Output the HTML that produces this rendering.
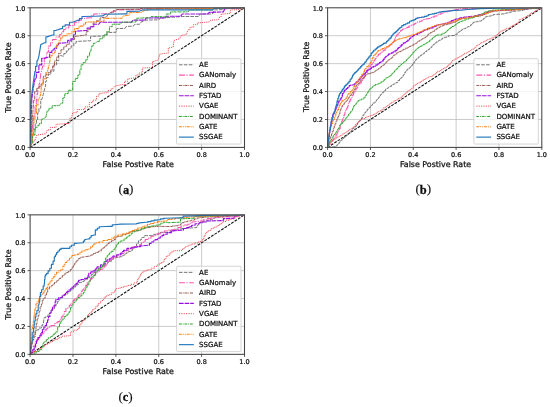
<!DOCTYPE html>
<html lang="en"><head><meta charset="utf-8"><title>ROC curves</title>
<style>
html,body{margin:0;padding:0;background:#fff}
svg{display:block}
.t{font-family:"DejaVu Sans","Liberation Sans",sans-serif;fill:#111;stroke:#111;stroke-width:0.24px}
.tk{font-size:6.5px}
.lb{font-size:7.9px;stroke-width:0.25px}
.lg{font-size:7px}
.cap{font-family:"Liberation Serif","DejaVu Serif",serif;font-size:12.4px;fill:#111;stroke:#111;stroke-width:0.12px}
.cv{fill:none;stroke-linejoin:round}
</style></head>
<body>
<svg width="550" height="407" viewBox="0 0 550 407">
<rect width="550" height="407" fill="#fff"/>
<filter id="soft" x="0" y="0" width="550" height="407" filterUnits="userSpaceOnUse"><feGaussianBlur stdDeviation="0.3"/></filter>
<g filter="url(#soft)">
<g id="plot-a">
<clipPath id="clip0"><rect x="30.1" y="7.8" width="214.4" height="139.6"/></clipPath>
<path d="M72.98 7.8V147.4M30.1 119.48H244.5M115.86 7.8V147.4M30.1 91.56H244.5M158.74 7.8V147.4M30.1 63.64H244.5M201.62 7.8V147.4M30.1 35.72H244.5" stroke="#b4b4b4" stroke-width="0.7" fill="none"/>
<g clip-path="url(#clip0)">
<path d="M30.1 147.4L244.5 7.8" stroke="#0a0a0a" stroke-width="1.05" stroke-dasharray="2.8 1.2" fill="none"/>
<polyline class="cv" points="30.3,146.9 31.8,140.1 32.44,140.1 32.44,135.86 33.09,135.86 33.74,135.86 33.74,129.9 34.4,129.9 35.19,129.9 35.19,123.63 35.99,123.63 36.44,123.63 36.44,119.7 36.9,119.7 37.64,119.7 37.64,112.87 38.38,112.87 38.94,112.87 38.94,108.2 39.5,108.2 40.75,108.2 40.75,99.3 42,99.3 43.3,94.1 45.2,86.5 45.57,86.5 45.57,81.34 45.94,81.34 46.57,81.34 46.57,77.5 47.2,77.5 48.2,77.5 48.2,74.55 49.19,74.55 50.75,74.55 50.75,71.2 52.3,71.2 53.9,71.2 53.9,64.8 55.5,64.8 56.59,64.8 56.59,60.67 57.69,60.67 58.79,60.67 58.79,55.2 59.9,55.2 62.5,56.1 63.81,56.1 63.81,53.61 65.12,53.61 66.36,53.61 66.36,51 67.6,51 68.54,51 68.54,48.75 69.48,48.75 71.09,48.75 71.09,45.9 72.7,45.9 73.84,45.9 73.84,43.28 74.97,43.28 76.09,43.28 76.09,41.4 77.2,41.4 89.3,40.8 90.6,40.8 90.6,36.3 91.9,36.3 102.7,36 104.6,35 107.15,35 107.15,32.5 109.7,32.5 116.1,32.2 116.7,28.6 125,28.4 126.3,26.5 133.3,26.1 134.6,24.4 139.7,24.2 141,22.2 143.5,21 146.1,20.1 158.9,19.8 160.1,17.8 165,17.8 182.2,16.5 198.7,16.5 200,14 212.6,14 214.3,9.9 223.3,9.6 225,8.2 244.5,7.8" stroke="#666" stroke-width="0.9" stroke-dasharray="3.6 1.1"/>
<polyline class="cv" points="30.3,146.9 30.63,146.9 30.63,141.82 30.95,141.82 31.4,141.82 31.4,137.36 31.84,137.36 32.17,137.36 32.17,127.4 32.5,127.4 34.4,112 35.08,112 35.08,105.43 35.75,105.43 36.33,105.43 36.33,99.3 36.9,99.3 36.9,94.1 37.7,94.1 37.7,87.88 38.51,87.88 39,87.88 39,83.9 39.5,83.9 40.8,73.7 42.7,66 44.3,66 44.3,58.4 45.9,58.4 47.2,52 48.45,52 48.45,45.9 49.7,45.9 50.63,45.9 50.63,42.64 51.55,42.64 52.53,42.64 52.53,39.5 53.5,39.5 56.1,39.5 56.1,36.9 58.7,36.9 59.72,36.9 59.72,34.57 60.74,34.57 61.62,34.57 61.62,31.8 62.5,31.8 63.68,31.8 63.68,29.46 64.85,29.46 65.58,29.46 65.58,28 66.3,28 68.85,28 68.85,25.4 71.4,25.4 74.6,25.4 74.6,22.2 77.8,22.2 78.73,22.2 78.73,20.29 79.67,20.29 81.28,20.29 81.28,18.4 82.9,18.4 90.6,17.8 91.8,17.8 91.8,15.57 92.99,15.57 93.7,15.57 93.7,13.9 94.4,13.9 109,13.7 111.6,12 115.4,11.4 116.7,9.9 139.7,9.6 141,8.2 244.5,7.8" stroke="#ff55b0" stroke-width="1.05" stroke-dasharray="6 1.1 1.2 1.1"/>
<polyline class="cv" points="30.3,146.9 31.2,135 32.5,117.2 33.7,100.5 34.7,100.5 34.7,91.6 35.7,91.6 36.77,91.6 36.77,88.54 37.83,88.54 39.04,88.54 39.04,86.47 40.25,86.47 41.12,86.47 41.12,83.9 42,83.9 43.3,83.9 43.3,76.3 44.6,76.3 45.85,76.3 45.85,74.34 47.11,74.34 48.4,74.34 48.4,72.4 49.7,72.4 50.72,72.4 50.72,70.04 51.73,70.04 52.62,70.04 52.62,66 53.5,66 54.54,66 54.54,60.92 55.58,60.92 56.49,60.92 56.49,57.1 57.4,57.1 58.45,57.1 58.45,53.45 59.5,53.45 61,53.45 61,49.7 62.5,49.7 63.76,49.7 63.76,46.72 65.03,46.72 66.31,46.72 66.31,44.6 67.6,44.6 69.19,44.6 69.19,41.68 70.79,41.68 71.74,41.68 71.74,39.5 72.7,39.5 74.6,39.5 74.6,36.3 76.5,36.3 85.5,35 86.25,35 86.25,31.66 86.99,31.66 88.15,31.66 88.15,29.3 89.3,29.3 90.48,29.3 90.48,26.77 91.65,26.77 93.03,26.77 93.03,22.9 94.4,22.9 96.6,22.9 96.6,20.6 98.8,20.6 100.1,20.6 100.1,17.8 101.4,17.8 106.5,17.1 107.8,14.6 110.3,12.7 113.2,12.7 113.2,10.7 116.1,10.7 116.7,9.5 139.7,9.2 142.3,8.2 244.5,7.8" stroke="#8c4a3e" stroke-width="0.9" stroke-dasharray="3 0.5 0.9 0.5"/>
<polyline class="cv" points="30.3,146.9 31.8,99.3 33.1,89 35,78.8 36.3,78.8 36.3,72.4 37.6,72.4 38.85,72.4 38.85,64.8 40.1,64.8 41.7,64.8 41.7,58.4 43.3,58.4 48.4,57.1 49.7,57.1 49.7,52.3 51,52.3 51.89,52.3 51.89,49.99 52.78,49.99 54.14,49.99 54.14,48.4 55.5,48.4 56.59,48.4 56.59,45.72 57.69,45.72 58.49,45.72 58.49,43.3 59.3,43.3 66.3,42.7 67.7,42.7 67.7,40.3 69.1,40.3 70.9,40.3 70.9,38.8 72.7,38.8 73.54,38.8 73.54,34.77 74.37,34.77 75.44,34.77 75.44,31.2 76.5,31.2 85.5,30.5 87.17,30.5 87.17,28.13 88.84,28.13 90.37,28.13 90.37,26.7 91.9,26.7 93.8,26.7 93.8,24.2 95.7,24.2 98.8,24.2 100.1,22.2 131.4,22.2 133.3,20.1 144.8,20.1 146.1,18 164.9,17.8 167.4,16.2 180.6,16.2 182.2,14 207.7,14 209.3,12.4 223.3,11.9 225,8.6 244.5,7.8" stroke="#9810e6" stroke-width="1.15" stroke-dasharray="4.7 0.7"/>
<polyline class="cv" points="30.3,146.9 31.2,144.6 32.23,144.6 32.23,142.06 33.27,142.06 34.13,142.06 34.13,140.1 35,140.1 36.9,135 45.9,133.8 47.2,129.9 50.35,129.9 50.35,127.4 53.5,127.4 56.1,127.4 56.1,124.2 58.7,124.2 68.2,123.5 69.8,123.5 69.8,118.4 71.4,118.4 72.7,112.7 77.15,112.7 77.15,109.5 81.6,109.5 84.8,109.5 84.8,106.9 88,106.9 89.3,106.9 89.3,102.5 90.6,102.5 92.75,102.5 92.75,100.1 94.9,100.1 96.48,100.1 96.48,96.19 98.07,96.19 98.98,96.19 98.98,93.5 99.9,93.5 106.4,92.7 107.95,92.7 107.95,90.47 109.5,90.47 111.25,90.47 111.25,88.6 113,88.6 114.7,86.1 122.9,84.5 124.53,84.5 124.53,81.22 126.16,81.22 127.83,81.22 127.83,78.7 129.5,78.7 134.4,77.9 135.83,77.9 135.83,75.05 137.27,75.05 139.13,75.05 139.13,73 141,73 142.25,73 142.25,68 143.5,68 150.9,67.7 152.5,67.7 152.5,61.4 154.1,61.4 158.3,59.8 159.9,54 166.6,53.2 168.25,53.2 168.25,47.8 169.9,47.8 173.2,46.9 174,40.4 179.7,38.7 181.4,35.4 186.3,34.6 188,29.7 190.05,29.7 190.05,27.2 192.1,27.2 193.7,27.2 193.7,24.45 195.3,24.45 197.4,24.45 197.4,22.8 199.5,22.8 209.3,21.9 211,20.1 218.4,19.8 220,16.5 221.25,16.5 221.25,14 222.5,14 229.1,13.6 230.3,13.6 230.3,9.9 231.5,9.9 240.6,9.6 244.5,7.8" stroke="#f24a4e" stroke-width="1.0" stroke-dasharray="1.15 1.0"/>
<polyline class="cv" points="30.3,146.9 31.2,142.7 32.45,142.7 32.45,135 33.7,135 35,135 35,127.4 36.3,127.4 37.2,127.4 37.2,125.63 38.09,125.63 39.1,125.63 39.1,123.5 40.1,123.5 41.4,123.5 41.4,119.1 42.7,119.1 45.9,117.2 47.2,110.8 48.98,110.8 48.98,108.3 50.77,108.3 52.13,108.3 52.13,105.7 53.5,105.7 59.3,105.7 61.2,103.1 62.8,103.1 62.8,98 64.4,98 65,93.5 68.2,93.5 68.2,90.3 71.4,90.3 72.7,90.3 72.7,81.4 74,81.4 75.35,81.4 75.35,78.42 76.7,78.42 77.9,78.42 77.9,75 79.1,75 79.83,75 79.83,69.78 80.55,69.78 81.08,69.78 81.08,64.8 81.6,64.8 83.22,64.8 83.22,62.46 84.84,62.46 85.77,62.46 85.77,59.7 86.7,59.7 87.65,59.7 87.65,55.98 88.6,55.98 89.6,55.98 89.6,52 90.6,52 91.9,45.9 93.45,45.9 93.45,43.3 95,43.3 97.6,41.4 99.5,41.4 99.5,38.8 101.4,38.8 102.48,38.8 102.48,37.1 103.56,37.1 104.38,37.1 104.38,35 105.2,35 106.5,35 106.5,31.8 107.8,31.8 109.4,31.8 109.4,26.7 111,26.7 112.25,26.7 112.25,24.2 113.5,24.2 120.5,24.2 121.8,22.2 135.9,22 136.5,18.2 149.9,17.8 151.2,16.5 164.1,16.8 166.15,16.8 166.15,14 168.2,14 170.7,14 170.7,11.9 173.2,11.9 188,11.9 189.6,9.9 212.6,9.9 214.3,8.3 244.5,7.8" stroke="#25a325" stroke-width="1.0" stroke-dasharray="2.8 0.5 0.9 0.5"/>
<polyline class="cv" points="30.3,146.9 30.77,146.9 30.77,142.09 31.24,142.09 31.75,142.09 31.75,135.81 32.25,135.81 32.68,135.81 32.68,129.9 33.1,129.9 33.44,129.9 33.44,122.56 33.78,122.56 34.05,122.56 34.05,118.17 34.31,118.17 35.01,118.17 35.01,113.3 35.7,113.3 36.46,113.3 36.46,104.95 37.23,104.95 38.06,104.95 38.06,99.3 38.9,99.3 40.8,94.1 41.4,85.2 43,85.2 43,78.8 44.6,78.8 45.9,78.8 45.9,72.4 47.2,72.4 49.1,64.8 51,55.8 52.12,55.8 52.12,53.79 53.24,53.79 54.37,53.79 54.37,52 55.5,52 55.5,47.1 56.73,47.1 56.73,44.1 57.96,44.1 58.93,44.1 58.93,40.8 59.9,40.8 60.69,40.8 60.69,38.02 61.48,38.02 62.64,38.02 62.64,35.7 63.8,35.7 66.95,35.7 66.95,33.7 70.1,33.7 71.76,33.7 71.76,31.82 73.42,31.82 74.36,31.82 74.36,28.6 75.3,28.6 79.1,28.6 79.1,26.1 82.9,26.1 83.6,26.1 83.6,23.93 84.3,23.93 85.5,23.93 85.5,22.2 86.7,22.2 98,21.6 102.7,21.3 103.95,21.3 103.95,18.4 105.2,18.4 121.8,18.2 123.7,15.9 128.8,15.5 129.5,12.7 141,12.4 143.5,10.7 147.4,10.4 148.6,9.1 165,8.8 200,8.6 244.5,7.8" stroke="#ff7f0e" stroke-width="1.05" stroke-dasharray="2.9 0.6 0.95 0.6 0.95 0.6"/>
<polyline class="cv" points="30.3,146.9 30.8,104 31.8,94.1 33.1,83.9 35,71.2 35.58,71.2 35.58,66.3 36.16,66.3 36.88,66.3 36.88,60.9 37.6,60.9 38.9,56.1 40.8,44.6 44.6,42.7 45.9,42.7 45.9,36.9 47.2,36.9 52.3,35 53.9,35 53.9,30.5 55.5,30.5 61.2,28.6 62.55,28.6 62.55,26.2 63.91,26.2 65.1,26.2 65.1,24.8 66.3,24.8 69.5,24.8 69.5,22.2 72.7,22.2 77.8,20.3 79.42,20.3 79.42,18.59 81.03,18.59 81.97,18.59 81.97,16.5 82.9,16.5 95,16.2 102.7,15.9 105.2,14.2 125.7,13.9 126.95,13.9 126.95,11.4 128.2,11.4 139.7,11.1 142.3,9.9 212.6,9.9 214.3,8.3 244.5,7.8" stroke="#2277ba" stroke-width="1.15"/>
</g>
<rect x="30.1" y="7.8" width="214.4" height="139.6" fill="none" stroke="#444" stroke-width="1.05"/>
<path d="M30.1 147.4v2.6M30.1 147.4h-2.6M72.98 147.4v2.6M30.1 119.48h-2.6M115.86 147.4v2.6M30.1 91.56h-2.6M158.74 147.4v2.6M30.1 63.64h-2.6M201.62 147.4v2.6M30.1 35.72h-2.6M244.5 147.4v2.6M30.1 7.8h-2.6" stroke="#333" stroke-width="0.8" fill="none"/>
<text class="t tk" x="30.1" y="156.65" text-anchor="middle">0.0</text>
<text class="t tk" x="25.5" y="150.1" text-anchor="end">0.0</text>
<text class="t tk" x="72.98" y="156.65" text-anchor="middle">0.2</text>
<text class="t tk" x="25.5" y="122.18" text-anchor="end">0.2</text>
<text class="t tk" x="115.86" y="156.65" text-anchor="middle">0.4</text>
<text class="t tk" x="25.5" y="94.26" text-anchor="end">0.4</text>
<text class="t tk" x="158.74" y="156.65" text-anchor="middle">0.6</text>
<text class="t tk" x="25.5" y="66.34" text-anchor="end">0.6</text>
<text class="t tk" x="201.62" y="156.65" text-anchor="middle">0.8</text>
<text class="t tk" x="25.5" y="38.42" text-anchor="end">0.8</text>
<text class="t tk" x="244.5" y="156.65" text-anchor="middle">1.0</text>
<text class="t tk" x="25.5" y="10.5" text-anchor="end">1.0</text>
<text class="t lb" x="138.2" y="166.8" text-anchor="middle">False Postive Rate</text>
<text class="t lb" transform="translate(10.5 77.6) rotate(-90)" text-anchor="middle">True Positive Rate</text>
<rect x="176.6" y="58.7" width="64.4" height="85.35" rx="0.9" fill="#fff" fill-opacity="0.8" stroke="#d0d0d0" stroke-width="0.9"/>
<path d="M179 64.8h14.8" stroke="#666" stroke-width="0.9" stroke-dasharray="3.6 1.3" fill="none"/>
<text class="t lg" x="199.1" y="67.1">AE</text>
<path d="M179 75.13h14.8" stroke="#ff55b0" stroke-width="1.05" stroke-dasharray="6 1.5 1.2 1.5" fill="none"/>
<text class="t lg" x="199.1" y="77.43">GANomaly</text>
<path d="M179 85.46h14.8" stroke="#8c4a3e" stroke-width="0.9" stroke-dasharray="3 0.8 0.9 0.8" fill="none"/>
<text class="t lg" x="199.1" y="87.76">AIRD</text>
<path d="M179 95.79h14.8" stroke="#9810e6" stroke-width="1.15" stroke-dasharray="4.7 0.9" fill="none"/>
<text class="t lg" x="199.1" y="98.09">FSTAD</text>
<path d="M179 106.12h14.8" stroke="#f24a4e" stroke-width="1.0" stroke-dasharray="1.15 1.2" fill="none"/>
<text class="t lg" x="199.1" y="108.42">VGAE</text>
<path d="M179 116.45h14.8" stroke="#25a325" stroke-width="1.0" stroke-dasharray="2.8 0.9 0.9 0.9" fill="none"/>
<text class="t lg" x="199.1" y="118.75">DOMINANT</text>
<path d="M179 126.78h14.8" stroke="#ff7f0e" stroke-width="1.05" stroke-dasharray="2.9 1 0.95 1 0.95 1" fill="none"/>
<text class="t lg" x="199.1" y="129.08">GATE</text>
<path d="M179 137.11h14.8" stroke="#2277ba" stroke-width="1.15" fill="none"/>
<text class="t lg" x="199.1" y="139.41">SSGAE</text>
<text class="cap" x="126" y="193.35" text-anchor="middle"><tspan font-size="13.2">(</tspan><tspan font-weight="bold" stroke="#111" stroke-width="0.3" dy="0.85">a</tspan><tspan font-size="13.2" dy="-0.85">)</tspan></text>
</g>
<g id="plot-b">
<clipPath id="clip1"><rect x="327.6" y="7.8" width="214.2" height="139.6"/></clipPath>
<path d="M370.44 7.8V147.4M327.6 119.48H541.8M413.28 7.8V147.4M327.6 91.56H541.8M456.12 7.8V147.4M327.6 63.64H541.8M498.96 7.8V147.4M327.6 35.72H541.8" stroke="#b4b4b4" stroke-width="0.7" fill="none"/>
<g clip-path="url(#clip1)">
<path d="M327.6 147.4L541.8 7.8" stroke="#0a0a0a" stroke-width="1.05" stroke-dasharray="2.8 1.2" fill="none"/>
<polyline class="cv" points="327.6,146.9 333.9,146.9 335.2,146.9 335.2,145.9 336.5,145.9 336.92,145.9 336.92,144.95 337.33,144.95 337.87,144.95 337.87,144.06 338.42,144.06 338.85,144.06 338.85,142.73 339.27,142.73 339.79,142.73 339.79,141.4 340.3,141.4 340.86,141.4 340.86,140.32 341.41,140.32 341.86,140.32 341.86,139.59 342.32,139.59 342.68,139.59 342.68,138.5 343.04,138.5 343.62,138.5 343.62,137.6 344.2,137.6 344.87,137.6 344.87,136.31 345.53,136.31 345.99,136.31 345.99,135.68 346.45,135.68 347.1,135.68 347.1,134.93 347.76,134.93 348.08,134.93 348.08,134.05 348.41,134.05 348.78,134.05 348.78,133.14 349.16,133.14 349.83,133.14 349.83,131.8 350.5,131.8 351.11,131.8 351.11,130.58 351.73,130.58 352.09,130.58 352.09,129.32 352.45,129.32 352.73,129.32 352.73,128.53 353.01,128.53 353.72,128.53 353.72,127.9 354.43,127.9 354.74,127.9 354.74,127.13 355.06,127.13 355.37,127.13 355.37,126.47 355.69,126.47 356.29,126.47 356.29,124.8 356.9,124.8 357.51,124.8 357.51,122.97 358.12,122.97 358.41,122.97 358.41,122.2 358.69,122.2 359.05,122.2 359.05,121.25 359.4,121.25 359.77,121.25 359.77,120.45 360.14,120.45 360.55,120.45 360.55,119.53 360.96,119.53 361.48,119.53 361.48,117.8 362,117.8 362.48,117.8 362.48,115.8 362.95,115.8 363.27,115.8 363.27,114.83 363.58,114.83 364.05,114.83 364.05,113.96 364.52,113.96 364.85,113.96 364.85,112.43 365.18,112.43 365.89,112.43 365.89,111.49 366.6,111.49 367.2,111.49 367.2,109.3 367.8,109.3 368.31,109.3 368.31,108.1 368.82,108.1 369.46,108.1 369.46,107.47 370.09,107.47 370.41,107.47 370.41,106.28 370.72,106.28 371.12,106.28 371.12,105.66 371.52,105.66 371.88,105.66 371.88,104.86 372.24,104.86 372.52,104.86 372.52,103.81 372.81,103.81 373.56,103.81 373.56,102.8 374.3,102.8 375.18,102.8 375.18,101.11 376.05,101.11 376.38,101.11 376.38,100.14 376.7,100.14 377.02,100.14 377.02,99.36 377.35,99.36 377.91,99.36 377.91,98.53 378.47,98.53 378.75,98.53 378.75,97.24 379.04,97.24 379.53,97.24 379.53,96.33 380.02,96.33 380.29,96.33 380.29,94.98 380.57,94.98 380.96,94.98 380.96,94.27 381.34,94.27 381.97,94.27 381.97,92.9 382.6,92.9 383.26,92.9 383.26,91.9 383.92,91.9 384.3,91.9 384.3,90.62 384.68,90.62 385.57,90.62 385.57,89.2 386.47,89.2 386.89,89.2 386.89,88.51 387.3,88.51 387.74,88.51 387.74,87.85 388.18,87.85 388.63,87.85 388.63,87.27 389.08,87.27 389.94,87.27 389.94,86.3 390.8,86.3 391.49,86.3 391.49,85.19 392.18,85.19 392.85,85.19 392.85,84.5 393.52,84.5 393.93,84.5 393.93,83.83 394.34,83.83 395.07,83.83 395.07,83.2 395.8,83.2 396.3,83.2 396.3,82.4 396.8,82.4 397.9,82.4 397.9,80.6 399,80.6 399.55,80.6 399.55,78.78 400.1,78.78 400.78,78.78 400.78,77.99 401.45,77.99 401.84,77.99 401.84,77 402.23,77 402.56,77 402.56,76.12 402.89,76.12 403.31,76.12 403.31,74.86 403.73,74.86 404.21,74.86 404.21,73.13 404.68,73.13 405.09,73.13 405.09,71.94 405.5,71.94 406.05,71.94 406.05,70.5 406.6,70.5 407.16,70.5 407.16,69.26 407.72,69.26 408.21,69.26 408.21,68.62 408.69,68.62 409.21,68.62 409.21,67.86 409.73,67.86 410.15,67.86 410.15,66.78 410.57,66.78 411.1,66.78 411.1,66.02 411.64,66.02 411.93,66.02 411.93,65.01 412.23,65.01 412.71,65.01 412.71,63.8 413.2,63.8 413.81,63.8 413.81,62.3 414.43,62.3 414.71,62.3 414.71,61.37 415,61.37 415.44,61.37 415.44,60.06 415.88,60.06 416.26,60.06 416.26,59.08 416.64,59.08 417.07,59.08 417.07,58.44 417.5,58.44 417.9,58.44 417.9,57.8 418.3,57.8 419,57.8 419,56.4 419.7,56.4 420.46,56.4 420.46,55.31 421.23,55.31 421.86,55.31 421.86,54.26 422.48,54.26 423.14,54.26 423.14,53.63 423.8,53.63 424.31,53.63 424.31,52.52 424.82,52.52 425.56,52.52 425.56,51.5 426.3,51.5 426.91,51.5 426.91,50 427.51,50 428.37,50 428.37,49.23 429.23,49.23 429.82,49.23 429.82,48.4 430.4,48.4 430.87,48.4 430.87,47.46 431.33,47.46 431.66,47.46 431.66,46.42 431.98,46.42 432.29,46.42 432.29,45.69 432.6,45.69 432.88,45.69 432.88,44.97 433.17,44.97 433.71,44.97 433.71,44.31 434.25,44.31 434.67,44.31 434.67,43.51 435.09,43.51 435.95,43.51 435.95,42 436.8,42 437.59,42 437.59,41.13 438.38,41.13 438.91,41.13 438.91,40.25 439.44,40.25 440.44,40.25 440.44,39.27 441.44,39.27 442.32,39.27 442.32,38.2 443.2,38.2 444.44,38.2 444.44,37.4 445.69,37.4 446.43,37.4 446.43,36.73 447.18,36.73 448.39,36.73 448.39,35.7 449.6,35.7 454.7,35.4 455.72,35.4 455.72,34.35 456.74,34.35 457.21,34.35 457.21,33.23 457.67,33.23 458.25,33.23 458.25,32.16 458.83,32.16 459.31,32.16 459.31,31.55 459.79,31.55 460.45,31.55 460.45,30.5 461.1,30.5 461.89,30.5 461.89,29.43 462.68,29.43 463.57,29.43 463.57,28.71 464.46,28.71 465.33,28.71 465.33,28 466.2,28 466.9,28 466.9,27.15 467.6,27.15 468.13,27.15 468.13,26.48 468.66,26.48 469.37,26.48 469.37,25.86 470.08,25.86 470.69,25.86 470.69,24.8 471.3,24.8 471.73,24.8 471.73,23.74 472.15,23.74 472.64,23.74 472.64,22.99 473.13,22.99 473.52,22.99 473.52,22.2 473.9,22.2 475.23,22.2 475.23,21.79 476.57,21.79 477.25,21.79 477.25,21.45 477.93,21.45 479.12,21.45 479.12,21.04 480.31,21.04 481.5,21.04 481.5,20.3 482.7,20.3 483.11,20.3 483.11,19.12 483.53,19.12 483.78,19.12 483.78,18.35 484.04,18.35 484.62,18.35 484.62,17.1 485.2,17.1 486.22,17.1 486.22,16.48 487.24,16.48 488.88,16.48 488.88,16.03 490.52,16.03 491.31,16.03 491.31,15.46 492.1,15.46 493.15,15.46 493.15,14.6 494.2,14.6 503.1,13.9 504.35,13.9 504.35,13.34 505.59,13.34 506.21,13.34 506.21,12.91 506.82,12.91 508.42,12.91 508.42,12.29 510.02,12.29 510.64,12.29 510.64,11.89 511.26,11.89 512.28,11.89 512.28,11.4 513.3,11.4 519.7,10.7 520.8,10.7 520.8,10.3 521.9,10.3 523.04,10.3 523.04,9.84 524.19,9.84 524.88,9.84 524.88,9.49 525.57,9.49 527.09,9.49 527.09,9.1 528.6,9.1 530.17,9.1 530.17,8.75 531.73,8.75 532.46,8.75 532.46,8.6 533.2,8.6 534.31,8.6 534.31,8.46 535.42,8.46 536.15,8.46 536.15,8.29 536.87,8.29 537.86,8.29 537.86,8.01 538.86,8.01 540.08,8.01 540.08,7.8 541.3,7.8" stroke="#666" stroke-width="0.9" stroke-dasharray="3.6 1.1"/>
<polyline class="cv" points="327.6,146.9 328.2,146.9 328.2,145.3 328.8,145.3 329.27,145.3 329.27,143.98 329.74,143.98 330.37,143.98 330.37,143.08 331,143.08 331.35,143.08 331.35,142.13 331.71,142.13 332.2,142.13 332.2,140.8 332.7,140.8 333.18,140.8 333.18,139.02 333.66,139.02 334.05,139.02 334.05,137.42 334.44,137.42 334.96,137.42 334.96,136.46 335.49,136.46 335.99,136.46 335.99,135 336.5,135 336.95,135 336.95,132.97 337.41,132.97 337.76,132.97 337.76,131.94 338.12,131.94 338.38,131.94 338.38,130.84 338.63,130.84 339.17,130.84 339.17,128.7 339.7,128.7 340.16,128.7 340.16,125.17 340.63,125.17 341.04,125.17 341.04,123.6 341.45,123.6 341.82,123.6 341.82,121 342.2,121 342.83,121 342.83,118.57 343.45,118.57 343.72,118.57 343.72,115.77 343.98,115.77 344.26,115.77 344.26,114.23 344.54,114.23 344.97,114.23 344.97,112 345.4,112 345.81,112 345.81,109.63 346.22,109.63 346.76,109.63 346.76,107.98 347.29,107.98 347.65,107.98 347.65,105.7 348,105.7 348.38,105.7 348.38,103.76 348.75,103.76 349.19,103.76 349.19,101.64 349.62,101.64 350,101.64 350,99.86 350.38,99.86 350.84,99.86 350.84,97.8 351.3,97.8 351.96,97.8 351.96,95.73 352.62,95.73 352.9,95.73 352.9,94.77 353.18,94.77 353.5,94.77 353.5,92.96 353.82,92.96 354.15,92.96 354.15,91.91 354.49,91.91 354.92,91.91 354.92,90.28 355.35,90.28 355.83,90.28 355.83,88.8 356.3,88.8 356.84,88.8 356.84,87.71 357.37,87.71 357.68,87.71 357.68,86.22 357.98,86.22 358.27,86.22 358.27,85.2 358.57,85.2 358.96,85.2 358.96,84.05 359.34,84.05 359.87,84.05 359.87,83 360.4,83 361.28,83 361.28,80.47 362.16,80.47 362.51,80.47 362.51,79.48 362.85,79.48 363.39,79.48 363.39,78.12 363.93,78.12 364.26,78.12 364.26,76.8 364.59,76.8 364.95,76.8 364.95,75.63 365.31,75.63 365.61,75.63 365.61,73.68 365.91,73.68 366.22,73.68 366.22,72.55 366.53,72.55 367.16,72.55 367.16,69.9 367.8,69.9 368.25,69.9 368.25,68.48 368.71,68.48 369.01,68.48 369.01,67.28 369.31,67.28 369.92,67.28 369.92,66.22 370.53,66.22 370.99,66.22 370.99,64.44 371.45,64.44 372.08,64.44 372.08,62.6 372.7,62.6 373.26,62.6 373.26,61.18 373.82,61.18 374.16,61.18 374.16,60.21 374.5,60.21 374.99,60.21 374.99,58.78 375.49,58.78 375.89,58.78 375.89,57.94 376.3,57.94 376.61,57.94 376.61,56.83 376.92,56.83 377.22,56.83 377.22,55.76 377.52,55.76 378.41,55.76 378.41,54.3 379.3,54.3 379.93,54.3 379.93,53.34 380.56,53.34 381.06,53.34 381.06,52.19 381.55,52.19 382.04,52.19 382.04,51.62 382.52,51.62 382.93,51.62 382.93,50.78 383.34,50.78 383.92,50.78 383.92,50.11 384.5,50.11 385.21,50.11 385.21,48.78 385.92,48.78 386.71,48.78 386.71,47.8 387.5,47.8 388.01,47.8 388.01,46.47 388.52,46.47 388.85,46.47 388.85,45.78 389.18,45.78 389.57,45.78 389.57,45.1 389.96,45.1 390.53,45.1 390.53,44.48 391.09,44.48 391.5,44.48 391.5,43.68 391.9,43.68 392.28,43.68 392.28,42.43 392.65,42.43 393.38,42.43 393.38,41.2 394.1,41.2 394.61,41.2 394.61,39.31 395.13,39.31 395.46,39.31 395.46,37.37 395.8,37.37 396.12,37.37 396.12,35.89 396.44,35.89 396.91,35.89 396.91,34.75 397.38,34.75 398.19,34.75 398.19,33 399,33 399.48,33 399.48,31.56 399.96,31.56 400.45,31.56 400.45,30.8 400.94,30.8 401.39,30.8 401.39,30.19 401.84,30.19 402.14,30.19 402.14,29.59 402.45,29.59 403.17,29.59 403.17,28.8 403.9,28.8 405,28.8 405,27.97 406.09,27.97 407.01,27.97 407.01,27.39 407.92,27.39 408.96,27.39 408.96,26.1 410,26.1 411.29,26.1 411.29,25.1 412.57,25.1 413.08,25.1 413.08,24.6 413.59,24.6 414.27,24.6 414.27,23.81 414.96,23.81 415.68,23.81 415.68,22.9 416.4,22.9 417.43,22.9 417.43,22.04 418.46,22.04 419.7,22.04 419.7,21.25 420.93,21.25 421.87,21.25 421.87,20.3 422.8,20.3 423.69,20.3 423.69,19.41 424.58,19.41 425.6,19.41 425.6,18.99 426.62,18.99 427.91,18.99 427.91,18.4 429.2,18.4 430.03,18.4 430.03,17.59 430.86,17.59 432.31,17.59 432.31,16.87 433.76,16.87 434.63,16.87 434.63,15.9 435.5,15.9 436.96,15.9 436.96,14.83 438.41,14.83 439.1,14.83 439.1,14.24 439.78,14.24 440.84,14.24 440.84,13.3 441.9,13.3 442.82,13.3 442.82,12.67 443.73,12.67 444.64,12.67 444.64,12.17 445.55,12.17 446.92,12.17 446.92,11.1 448.3,11.1 449.41,11.1 449.41,10.75 450.52,10.75 451.19,10.75 451.19,10.3 451.86,10.3 453.28,10.3 453.28,9.9 454.7,9.9 456.01,9.9 456.01,9.6 457.32,9.6 458.31,9.6 458.31,9.28 459.3,9.28 460.2,9.28 460.2,8.8 461.1,8.8 467.5,8.6 480,8.2 541.3,7.8" stroke="#ff55b0" stroke-width="1.05" stroke-dasharray="6 1.1 1.2 1.1"/>
<polyline class="cv" points="327.6,146.9 328.17,146.9 328.17,144.49 328.74,144.49 329.12,144.49 329.12,141.4 329.5,141.4 329.94,141.4 329.94,138.01 330.37,138.01 330.76,138.01 330.76,135.94 331.15,135.94 331.57,135.94 331.57,133.8 332,133.8 332.37,133.8 332.37,131.28 332.73,131.28 333.33,131.28 333.33,128.29 333.92,128.29 334.26,128.29 334.26,126.1 334.6,126.1 334.97,126.1 334.97,123.81 335.35,123.81 335.9,123.81 335.9,121.49 336.45,121.49 336.88,121.49 336.88,119.2 337.3,119.2 337.71,119.2 337.71,117 338.12,117 338.55,117 338.55,115.29 338.99,115.29 339.24,115.29 339.24,113.75 339.5,113.75 339.9,113.75 339.9,110.8 340.3,110.8 340.73,110.8 340.73,108.75 341.15,108.75 341.59,108.75 341.59,106.62 342.02,106.62 342.5,106.62 342.5,105.35 342.99,105.35 343.35,105.35 343.35,104.39 343.71,104.39 344.2,104.39 344.2,102.8 344.7,102.8 345.34,102.8 345.34,101.71 345.98,101.71 346.28,101.71 346.28,101.09 346.58,101.09 346.94,101.09 346.94,100.29 347.29,100.29 347.58,100.29 347.58,99.44 347.87,99.44 348.33,99.44 348.33,97.8 348.8,97.8 349.28,97.8 349.28,96.08 349.75,96.08 350.42,96.08 350.42,95.12 351.09,95.12 351.44,95.12 351.44,93.77 351.79,93.77 352.22,93.77 352.22,92.83 352.65,92.83 352.97,92.83 352.97,91.93 353.28,91.93 353.94,91.93 353.94,89.6 354.6,89.6 355.12,89.6 355.12,87.93 355.63,87.93 355.93,87.93 355.93,85.87 356.22,85.87 356.52,85.87 356.52,84.87 356.81,84.87 357.65,84.87 357.65,83.9 358.49,83.9 358.81,83.9 358.81,82.85 359.13,82.85 359.77,82.85 359.77,81.4 360.4,81.4 360.88,81.4 360.88,79.8 361.36,79.8 361.66,79.8 361.66,78.62 361.97,78.62 362.64,78.62 362.64,77.83 363.31,77.83 363.65,77.83 363.65,76.81 364,76.81 364.53,76.81 364.53,75.95 365.06,75.95 365.58,75.95 365.58,74.8 366.1,74.8 366.98,74.8 366.98,73.81 367.87,73.81 369.5,73.81 369.5,73.16 371.13,73.16 371.8,73.16 371.8,72.62 372.47,72.62 373.39,72.62 373.39,72 374.3,72 374.96,72 374.96,70.93 375.61,70.93 376.07,70.93 376.07,70.34 376.53,70.34 377.09,70.34 377.09,69.48 377.65,69.48 378.09,69.48 378.09,68.85 378.54,68.85 379.15,68.85 379.15,68.1 379.77,68.1 380.33,68.1 380.33,67 380.9,67 381.61,67 381.61,65.99 382.32,65.99 382.78,65.99 382.78,65.4 383.24,65.4 383.62,65.4 383.62,64.74 384,64.74 384.43,64.74 384.43,64.13 384.86,64.13 385.16,64.13 385.16,63.48 385.46,63.48 385.92,63.48 385.92,62.22 386.39,62.22 386.94,62.22 386.94,60.9 387.5,60.9 388.31,60.9 388.31,59.86 389.12,59.86 389.49,59.86 389.49,59.11 389.87,59.11 390.62,59.11 390.62,58.53 391.38,58.53 391.74,58.53 391.74,57.47 392.1,57.47 392.64,57.47 392.64,56.21 393.18,56.21 393.68,56.21 393.68,55.29 394.17,55.29 394.94,55.29 394.94,54.3 395.7,54.3 396.66,54.3 396.66,52.85 397.61,52.85 398.2,52.85 398.2,52.26 398.78,52.26 399.36,52.26 399.36,51.65 399.95,51.65 401,51.65 401,50.64 402.06,50.64 402.98,50.64 402.98,49.4 403.9,49.4 405.3,49.4 405.3,48.23 406.7,48.23 407.55,48.23 407.55,47.52 408.39,47.52 409.2,47.52 409.2,46.5 410,46.5 410.69,46.5 410.69,45.8 411.38,45.8 412.14,45.8 412.14,45.13 412.91,45.13 413.68,45.13 413.68,44.03 414.45,44.03 415.43,44.03 415.43,43.3 416.4,43.3 417.01,43.3 417.01,41.86 417.62,41.86 418.21,41.86 418.21,41.23 418.81,41.23 419.57,41.23 419.57,40.38 420.34,40.38 420.73,40.38 420.73,39.75 421.12,39.75 421.96,39.75 421.96,38.8 422.8,38.8 423.77,38.8 423.77,37.78 424.75,37.78 425.67,37.78 425.67,36.9 426.6,36.9 427.01,36.9 427.01,35.75 427.43,35.75 427.71,35.75 427.71,34.78 428,34.78 428.6,34.78 428.6,33.7 429.2,33.7 430.06,33.7 430.06,32.73 430.91,32.73 431.46,32.73 431.46,32.01 432.02,32.01 432.79,32.01 432.79,31.27 433.56,31.27 434.53,31.27 434.53,29.9 435.5,29.9 436.23,29.9 436.23,28.77 436.96,28.77 437.95,28.77 437.95,27.63 438.95,27.63 439.45,27.63 439.45,26.95 439.94,26.95 440.92,26.95 440.92,26.1 441.9,26.1 442.83,26.1 442.83,25.49 443.75,25.49 444.48,25.49 444.48,24.74 445.21,24.74 446.75,24.74 446.75,24.2 448.3,24.2 449.3,24.2 449.3,23.61 450.3,23.61 451.25,23.61 451.25,22.91 452.21,22.91 453.45,22.91 453.45,22.2 454.7,22.2 455.85,22.2 455.85,20.9 457,20.9 457.72,20.9 457.72,20.41 458.45,20.41 459.02,20.41 459.02,19.76 459.59,19.76 460.34,19.76 460.34,19 461.1,19 462.05,19 462.05,18.54 462.99,18.54 464.17,18.54 464.17,18.26 465.35,18.26 466.43,18.26 466.43,17.8 467.5,17.8 469.02,17.8 469.02,17.42 470.54,17.42 471.19,17.42 471.19,17.25 471.84,17.25 472.55,17.25 472.55,17.05 473.27,17.05 473.91,17.05 473.91,16.85 474.55,16.85 475.83,16.85 475.83,16.47 477.11,16.47 478.56,16.47 478.56,16.2 480,16.2 480.83,16.2 480.83,15.5 481.65,15.5 482.7,15.5 482.7,14.36 483.75,14.36 484.8,14.36 484.8,13.83 485.84,13.83 486.82,13.83 486.82,13 487.8,13 488.78,13 488.78,12.14 489.76,12.14 491.11,12.14 491.11,11.69 492.45,11.69 493.32,11.69 493.32,11 494.2,11 496.87,11 496.87,10.77 499.53,10.77 500.27,10.77 500.27,10.67 501.01,10.67 501.74,10.67 501.74,10.52 502.47,10.52 503.21,10.52 503.21,10.42 503.96,10.42 505.16,10.42 505.16,10.26 506.36,10.26 507.23,10.26 507.23,10.16 508.09,10.16 509.31,10.16 509.31,10.06 510.53,10.06 511.92,10.06 511.92,9.9 513.3,9.9 514.97,9.9 514.97,9.68 516.63,9.68 517.34,9.68 517.34,9.56 518.04,9.56 518.8,9.56 518.8,9.36 519.56,9.36 520.23,9.36 520.23,9.23 520.9,9.23 521.91,9.23 521.91,9.07 522.92,9.07 524.51,9.07 524.51,8.8 526.1,8.8 527.4,8.8 527.4,8.54 528.7,8.54 529.39,8.54 529.39,8.37 530.07,8.37 531.42,8.37 531.42,8.26 532.78,8.26 534.09,8.26 534.09,8.17 535.4,8.17 536.34,8.17 536.34,8.07 537.28,8.07 538.09,8.07 538.09,7.98 538.9,7.98 540.1,7.98 540.1,7.8 541.3,7.8" stroke="#8c4a3e" stroke-width="0.9" stroke-dasharray="3 0.5 0.9 0.5"/>
<polyline class="cv" points="327.6,146.9 327.77,146.9 327.77,143.89 327.95,143.89 328.05,143.89 328.05,141.79 328.14,141.79 328.28,141.79 328.28,139.78 328.41,139.78 328.66,139.78 328.66,137.24 328.92,137.24 329.05,137.24 329.05,135.44 329.18,135.44 329.34,135.44 329.34,132.5 329.5,132.5 329.68,132.5 329.68,129.94 329.86,129.94 330.04,129.94 330.04,127.54 330.22,127.54 330.4,127.54 330.4,125.82 330.58,125.82 330.82,125.82 330.82,123.1 331.06,123.1 331.23,123.1 331.23,121 331.4,121 331.86,121 331.86,117.65 332.31,117.65 332.64,117.65 332.64,115.08 332.97,115.08 333.34,115.08 333.34,113.33 333.7,113.33 334.3,113.33 334.3,111 334.9,111 335.36,111 335.36,109.06 335.81,109.06 336.17,109.06 336.17,107.06 336.52,107.06 336.99,107.06 336.99,105.17 337.47,105.17 337.83,105.17 337.83,102.8 338.2,102.8 338.72,102.8 338.72,101.1 339.25,101.1 339.58,101.1 339.58,99.89 339.92,99.89 340.29,99.89 340.29,99.06 340.67,99.06 341.03,99.06 341.03,97.8 341.4,97.8 341.77,97.8 341.77,96.19 342.14,96.19 342.44,96.19 342.44,93.56 342.74,93.56 343.28,93.56 343.28,92.25 343.82,92.25 344.26,92.25 344.26,90.4 344.7,90.4 345.2,90.4 345.2,89.44 345.7,89.44 346.41,89.44 346.41,88.53 347.13,88.53 347.57,88.53 347.57,87.55 348.02,87.55 348.39,87.55 348.39,86.79 348.75,86.79 349.23,86.79 349.23,85.5 349.7,85.5 350.69,85.5 350.69,85.1 351.68,85.1 352.74,85.1 352.74,84.7 353.8,84.7 354.35,84.7 354.35,83.9 354.89,83.9 355.22,83.9 355.22,83.07 355.54,83.07 355.96,83.07 355.96,82.17 356.37,82.17 357.14,82.17 357.14,81.4 357.9,81.4 358.52,81.4 358.52,79.91 359.14,79.91 359.42,79.91 359.42,79.19 359.71,79.19 360.16,79.19 360.16,77.96 360.61,77.96 360.9,77.96 360.9,77.08 361.18,77.08 361.46,77.08 361.46,76.45 361.74,76.45 362.02,76.45 362.02,75.6 362.29,75.6 363.07,75.6 363.07,74.47 363.84,74.47 364.22,74.47 364.22,73.62 364.59,73.62 365.35,73.62 365.35,72.3 366.1,72.3 366.7,72.3 366.7,70.55 367.31,70.55 368.03,70.55 368.03,69.79 368.75,69.79 369.35,69.79 369.35,69.27 369.94,69.27 370.36,69.27 370.36,68.49 370.78,68.49 371.3,68.49 371.3,67.63 371.81,67.63 372.41,67.63 372.41,67.11 373,67.11 373.65,67.11 373.65,66.2 374.3,66.2 375.54,66.2 375.54,65.18 376.78,65.18 377.21,65.18 377.21,64.29 377.64,64.29 378.28,64.29 378.28,63.65 378.91,63.65 379.42,63.65 379.42,62.62 379.93,62.62 380.36,62.62 380.36,61.95 380.78,61.95 381.69,61.95 381.69,60.9 382.6,60.9 383.25,60.9 383.25,59.35 383.91,59.35 384.21,59.35 384.21,58.65 384.5,58.65 384.93,58.65 384.93,57.2 385.36,57.2 385.84,57.2 385.84,56.23 386.33,56.23 386.91,56.23 386.91,55.2 387.5,55.2 388.5,55.2 388.5,54.1 389.5,54.1 390,54.1 390,53.54 390.5,53.54 391.34,53.54 391.34,52.82 392.18,52.82 393.14,52.82 393.14,51.9 394.1,51.9 394.92,51.9 394.92,50.81 395.75,50.81 396.11,50.81 396.11,50.19 396.48,50.19 396.98,50.19 396.98,48.94 397.49,48.94 397.92,48.94 397.92,48.15 398.34,48.15 398.68,48.15 398.68,47.46 399.02,47.46 399.86,47.46 399.86,46.1 400.7,46.1 401.39,46.1 401.39,44.93 402.08,44.93 402.55,44.93 402.55,43.75 403.02,43.75 403.68,43.75 403.68,42.94 404.34,42.94 405.16,42.94 405.16,42.33 405.99,42.33 406.59,42.33 406.59,41.2 407.2,41.2 407.79,41.2 407.79,40.14 408.38,40.14 408.81,40.14 408.81,39.25 409.23,39.25 409.62,39.25 409.62,38.2 410,38.2 410.86,38.2 410.86,37.02 411.73,37.02 412.24,37.02 412.24,36.07 412.76,36.07 413.58,36.07 413.58,35.21 414.4,35.21 415.4,35.21 415.4,34.4 416.4,34.4 417.67,34.4 417.67,33.33 418.94,33.33 419.52,33.33 419.52,32.72 420.11,32.72 420.62,32.72 420.62,32.08 421.12,32.08 421.96,32.08 421.96,31.2 422.8,31.2 423.64,31.2 423.64,30.39 424.48,30.39 425.12,30.39 425.12,29.64 425.76,29.64 427.48,29.64 427.48,28.6 429.2,28.6 430.74,28.6 430.74,27.91 432.27,27.91 432.99,27.91 432.99,26.95 433.71,26.95 434.6,26.95 434.6,26.1 435.5,26.1 436.41,26.1 436.41,25.3 437.31,25.3 438.24,25.3 438.24,24.79 439.17,24.79 440.53,24.79 440.53,24.2 441.9,24.2 442.82,24.2 442.82,23.84 443.75,23.84 444.94,23.84 444.94,23.32 446.13,23.32 447.21,23.32 447.21,22.9 448.3,22.9 449.01,22.9 449.01,22.12 449.72,22.12 450.38,22.12 450.38,21.38 451.03,21.38 451.52,21.38 451.52,20.67 452.01,20.67 453.35,20.67 453.35,19.7 454.7,19.7 455.59,19.7 455.59,19.03 456.47,19.03 457.65,19.03 457.65,18.45 458.83,18.45 459.97,18.45 459.97,17.8 461.1,17.8 462.01,17.8 462.01,17.47 462.92,17.47 463.96,17.47 463.96,17.01 464.99,17.01 466.25,17.01 466.25,16.7 467.5,16.7 473.9,16.2 474.9,16.2 474.9,15.67 475.89,15.67 476.74,15.67 476.74,15.36 477.59,15.36 478.33,15.36 478.33,14.82 479.06,14.82 480.88,14.82 480.88,14.3 482.7,14.3 484.2,14.3 484.2,13.15 485.7,13.15 486.75,13.15 486.75,12.4 487.8,12.4 488.7,12.4 488.7,11.68 489.61,11.68 490.25,11.68 490.25,11.16 490.9,11.16 492.55,11.16 492.55,10.7 494.2,10.7 500.5,10.4 513.3,9.7 514.37,9.7 514.37,9.46 515.44,9.46 516.76,9.46 516.76,9.31 518.08,9.31 518.97,9.31 518.97,9.21 519.85,9.21 520.95,9.21 520.95,9.07 522.05,9.07 522.78,9.07 522.78,8.96 523.52,8.96 524.81,8.96 524.81,8.8 526.1,8.8 527.23,8.8 527.23,8.65 528.35,8.65 529.04,8.65 529.04,8.54 529.73,8.54 530.95,8.54 530.95,8.35 532.17,8.35 532.83,8.35 532.83,8.25 533.49,8.25 534.7,8.25 534.7,8.07 535.92,8.07 536.67,8.07 536.67,7.98 537.42,7.98 539.36,7.98 539.36,7.8 541.3,7.8" stroke="#9810e6" stroke-width="1.15" stroke-dasharray="4.7 0.7"/>
<polyline class="cv" points="327.6,146.9 328.2,146.9 328.2,144.6 328.8,144.6 329.21,144.6 329.21,143.61 329.63,143.61 330.05,143.61 330.05,142.97 330.47,142.97 330.93,142.97 330.93,141.4 331.4,141.4 332.14,141.4 332.14,140.43 332.88,140.43 333.4,140.43 333.4,139.64 333.93,139.64 334.56,139.64 334.56,138.9 335.2,138.9 336.12,138.9 336.12,137.93 337.04,137.93 337.74,137.93 337.74,136.84 338.44,136.84 339.11,136.84 339.11,135.88 339.77,135.88 340.69,135.88 340.69,135 341.6,135 342.65,135 342.65,133.89 343.7,133.89 344.3,133.89 344.3,133.09 344.9,133.09 345.65,133.09 345.65,132.4 346.4,132.4 347.2,132.4 347.2,131.2 348,131.2 348.6,131.2 348.6,130.03 349.2,130.03 349.68,130.03 349.68,129.4 350.15,129.4 350.96,129.4 350.96,128.79 351.76,128.79 352.15,128.79 352.15,127.95 352.54,127.95 352.98,127.95 352.98,127.23 353.42,127.23 353.91,127.23 353.91,126.44 354.39,126.44 355.04,126.44 355.04,124.8 355.7,124.8 356.25,124.8 356.25,123.98 356.81,123.98 357.18,123.98 357.18,123.39 357.56,123.39 357.82,123.39 357.82,122.58 358.09,122.58 358.66,122.58 358.66,121.52 359.22,121.52 359.57,121.52 359.57,120.89 359.92,120.89 360.36,120.89 360.36,119.7 360.8,119.7 362.31,119.7 362.31,118.62 363.83,118.62 364.87,118.62 364.87,117.61 365.91,117.61 366.86,117.61 366.86,116.7 367.8,116.7 368.78,116.7 368.78,115.94 369.77,115.94 371.15,115.94 371.15,115.44 372.52,115.44 373.41,115.44 373.41,114.3 374.3,114.3 375.02,114.3 375.02,113.48 375.75,113.48 376.34,113.48 376.34,112.38 376.94,112.38 377.39,112.38 377.39,111.74 377.83,111.74 378.73,111.74 378.73,111.24 379.63,111.24 380.34,111.24 380.34,110.43 381.06,110.43 381.83,110.43 381.83,109.3 382.6,109.3 383.28,109.3 383.28,107.97 383.96,107.97 384.81,107.97 384.81,107.27 385.65,107.27 386.13,107.27 386.13,106.6 386.61,106.6 387.13,106.6 387.13,105.46 387.65,105.46 388.48,105.46 388.48,104.8 389.31,104.8 390.06,104.8 390.06,103.6 390.8,103.6 391.54,103.6 391.54,102.5 392.28,102.5 392.94,102.5 392.94,101.9 393.61,101.9 394.14,101.9 394.14,100.61 394.67,100.61 395.83,100.61 395.83,99.89 396.99,99.89 397.99,99.89 397.99,98.7 399,98.7 399.99,98.7 399.99,97.58 400.97,97.58 401.33,97.58 401.33,96.69 401.7,96.69 402.2,96.69 402.2,96.09 402.7,96.09 403.18,96.09 403.18,94.89 403.67,94.89 404.09,94.89 404.09,94.31 404.52,94.31 404.85,94.31 404.85,93.78 405.19,93.78 405.63,93.78 405.63,93.19 406.07,93.19 406.47,93.19 406.47,92.33 406.87,92.33 407.54,92.33 407.54,91 408.2,91 409.15,91 409.15,89.99 410.1,89.99 410.65,89.99 410.65,89.21 411.2,89.21 411.56,89.21 411.56,88.63 411.92,88.63 412.34,88.63 412.34,87.97 412.77,87.97 413.37,87.97 413.37,85.95 413.97,85.95 414.54,85.95 414.54,85.37 415.11,85.37 415.75,85.37 415.75,84.4 416.4,84.4 417.33,84.4 417.33,83.4 418.26,83.4 418.88,83.4 418.88,82.72 419.49,82.72 420.39,82.72 420.39,81.28 421.3,81.28 421.83,81.28 421.83,80.67 422.35,80.67 423.52,80.67 423.52,79.5 424.7,79.5 425.57,79.5 425.57,78.74 426.44,78.74 426.94,78.74 426.94,77.78 427.45,77.78 427.97,77.78 427.97,77.19 428.49,77.19 429.8,77.19 429.8,76.67 431.11,76.67 432.01,76.67 432.01,75.4 432.9,75.4 433.62,75.4 433.62,74.42 434.35,74.42 434.84,74.42 434.84,73.76 435.33,73.76 435.78,73.76 435.78,73 436.23,73 436.69,73 436.69,72.04 437.16,72.04 437.83,72.04 437.83,71.34 438.5,71.34 439.8,71.34 439.8,70.4 441.1,70.4 441.84,70.4 441.84,69.2 442.59,69.2 443.32,69.2 443.32,68.57 444.05,68.57 444.71,68.57 444.71,67.76 445.36,67.76 446.19,67.76 446.19,66.92 447.01,66.92 447.46,66.92 447.46,65.66 447.91,65.66 448.61,65.66 448.61,64.7 449.3,64.7 449.9,64.7 449.9,63.39 450.5,63.39 450.92,63.39 450.92,62.72 451.34,62.72 451.73,62.72 451.73,61.58 452.12,61.58 452.53,61.58 452.53,60.59 452.95,60.59 453.74,60.59 453.74,59.89 454.53,59.89 455.21,59.89 455.21,58.9 455.9,58.9 457.26,58.9 457.26,57.48 458.61,57.48 459.21,57.48 459.21,56.87 459.8,56.87 460.59,56.87 460.59,56.14 461.38,56.14 461.92,56.14 461.92,55.15 462.46,55.15 463.08,55.15 463.08,54.56 463.7,54.56 464.75,54.56 464.75,53.2 465.8,53.2 466.78,53.2 466.78,52.28 467.76,52.28 468.18,52.28 468.18,51.44 468.6,51.44 469.44,51.44 469.44,50.61 470.28,50.61 470.72,50.61 470.72,49.94 471.16,49.94 471.9,49.94 471.9,49.44 472.64,49.44 473.32,49.44 473.32,48.2 474,48.2 474.74,48.2 474.74,47.26 475.48,47.26 475.93,47.26 475.93,45.97 476.38,45.97 476.84,45.97 476.84,45.2 477.31,45.2 478.18,45.2 478.18,44.51 479.05,44.51 479.52,44.51 479.52,43.56 479.98,43.56 480.45,43.56 480.45,42.94 480.91,42.94 481.8,42.94 481.8,42 482.7,42 483.81,42 483.81,41.29 484.92,41.29 485.79,41.29 485.79,40.6 486.66,40.6 487.26,40.6 487.26,39.77 487.86,39.77 489.08,39.77 489.08,38.8 490.3,38.8 491.25,38.8 491.25,37.85 492.21,37.85 492.8,37.85 492.8,37.31 493.4,37.31 494.31,37.31 494.31,36.64 495.22,36.64 495.77,36.64 495.77,35.23 496.33,35.23 497.16,35.23 497.16,34.4 498,34.4 498.62,34.4 498.62,33.21 499.25,33.21 499.69,33.21 499.69,32.26 500.12,32.26 500.72,32.26 500.72,31.36 501.31,31.36 501.95,31.36 501.95,30.7 502.6,30.7 503.17,30.7 503.17,30.16 503.75,30.16 504.72,30.16 504.72,29.3 505.7,29.3 506.6,29.3 506.6,28.41 507.51,28.41 508.59,28.41 508.59,27.62 509.67,27.62 510.66,27.62 510.66,26.8 511.65,26.8 512.48,26.8 512.48,25.4 513.3,25.4 514.07,25.4 514.07,24.27 514.84,24.27 515.43,24.27 515.43,23.58 516.02,23.58 517.21,23.58 517.21,22.9 518.4,22.9 519.05,22.9 519.05,19.7 519.7,19.7 520.74,19.7 520.74,18.96 521.79,18.96 522.49,18.96 522.49,18.36 523.19,18.36 523.81,18.36 523.81,17.61 524.44,17.61 525.27,17.61 525.27,16.5 526.1,16.5 527.41,16.5 527.41,15.44 528.71,15.44 529.26,15.44 529.26,14.85 529.81,14.85 530.32,14.85 530.32,13.52 530.83,13.52 531.67,13.52 531.67,12.7 532.5,12.7 533.67,12.7 533.67,11.49 534.85,11.49 535.66,11.49 535.66,10.45 536.47,10.45 537.36,10.45 537.36,9.85 538.25,9.85 538.92,9.85 538.92,8.79 539.58,8.79 540.44,8.79 540.44,7.8 541.3,7.8" stroke="#f24a4e" stroke-width="1.0" stroke-dasharray="1.15 1.0"/>
<polyline class="cv" points="327.6,146.9 328.2,146.9 328.2,144 328.8,144 329.3,144 329.3,142.35 329.81,142.35 330.18,142.35 330.18,141.28 330.54,141.28 331.01,141.28 331.01,139.58 331.48,139.58 332.09,139.58 332.09,137.6 332.7,137.6 333.1,137.6 333.1,135.82 333.51,135.82 333.8,135.82 333.8,135.04 334.09,135.04 334.51,135.04 334.51,134.1 334.93,134.1 335.59,134.1 335.59,132.49 336.25,132.49 336.67,132.49 336.67,131.2 337.1,131.2 337.55,131.2 337.55,129.32 338,129.32 338.39,129.32 338.39,128.22 338.78,128.22 339.19,128.22 339.19,127.23 339.6,127.23 339.9,127.23 339.9,124.98 340.2,124.98 340.9,124.98 340.9,123.5 341.6,123.5 342.32,123.5 342.32,122.35 343.04,122.35 343.39,122.35 343.39,121.54 343.74,121.54 344.33,121.54 344.33,120.32 344.91,120.32 345.31,120.32 345.31,118.78 345.7,118.78 346.04,118.78 346.04,117.81 346.38,117.81 346.72,117.81 346.72,117.08 347.05,117.08 347.53,117.08 347.53,115.9 348,115.9 348.74,115.9 348.74,113.99 349.47,113.99 349.8,113.99 349.8,113.06 350.12,113.06 350.39,113.06 350.39,112.21 350.67,112.21 351.13,112.21 351.13,111.29 351.6,111.29 351.92,111.29 351.92,110.17 352.24,110.17 352.67,110.17 352.67,108.2 353.1,108.2 353.59,108.2 353.59,106.04 354.09,106.04 354.44,106.04 354.44,105.16 354.79,105.16 355.28,105.16 355.28,104.24 355.78,104.24 356.22,104.24 356.22,103.22 356.65,103.22 357.02,103.22 357.02,102.12 357.39,102.12 358.09,102.12 358.09,100.6 358.8,100.6 359.67,100.6 359.67,99.79 360.54,99.79 361.72,99.79 361.72,98.91 362.91,98.91 363.71,98.91 363.71,97.8 364.5,97.8 365.02,97.8 365.02,96.05 365.54,96.05 365.92,96.05 365.92,94.94 366.3,94.94 366.75,94.94 366.75,93.34 367.2,93.34 367.74,93.34 367.74,92.05 368.28,92.05 368.84,92.05 368.84,89.6 369.4,89.6 369.84,89.6 369.84,88.79 370.28,88.79 370.63,88.79 370.63,88.21 370.97,88.21 371.69,88.21 371.69,87.55 372.41,87.55 372.76,87.55 372.76,86.25 373.11,86.25 373.7,86.25 373.7,85.5 374.3,85.5 375.27,85.5 375.27,84.47 376.24,84.47 377.3,84.47 377.3,83.89 378.37,83.89 379.19,83.89 379.19,83.19 380.01,83.19 380.52,83.19 380.52,82.3 381.04,82.3 381.82,82.3 381.82,81.4 382.6,81.4 383.31,81.4 383.31,80.21 384.02,80.21 384.73,80.21 384.73,79.16 385.44,79.16 385.96,79.16 385.96,77.86 386.49,77.86 387.31,77.86 387.31,77.18 388.14,77.18 388.68,77.18 388.68,76.57 389.23,76.57 390.01,76.57 390.01,75.6 390.8,75.6 391.35,75.6 391.35,74.28 391.9,74.28 392.18,74.28 392.18,73.32 392.47,73.32 392.89,73.32 392.89,72.67 393.3,72.67 393.81,72.67 393.81,72.03 394.32,72.03 394.63,72.03 394.63,70.73 394.93,70.73 395.38,70.73 395.38,70.02 395.83,70.02 396.38,70.02 396.38,69.16 396.92,69.16 397.24,69.16 397.24,67.92 397.55,67.92 398.28,67.92 398.28,66.6 399,66.6 399.58,66.6 399.58,65.6 400.16,65.6 400.64,65.6 400.64,64.85 401.12,64.85 401.49,64.85 401.49,63.99 401.86,63.99 402.25,63.99 402.25,63.4 402.65,63.4 402.97,63.4 402.97,62.54 403.3,62.54 403.96,62.54 403.96,61.84 404.63,61.84 405.19,61.84 405.19,61.2 405.76,61.2 406.48,61.2 406.48,59.6 407.2,59.6 407.7,59.6 407.7,58.49 408.19,58.49 408.51,58.49 408.51,57.86 408.83,57.86 409.28,57.86 409.28,57.21 409.73,57.21 410.19,57.21 410.19,55.93 410.64,55.93 411,55.93 411,54.93 411.36,54.93 411.75,54.93 411.75,54.03 412.14,54.03 412.97,54.03 412.97,52.3 413.8,52.3 414.29,52.3 414.29,51.43 414.79,51.43 415.13,51.43 415.13,50.49 415.48,50.49 416.03,50.49 416.03,49.32 416.58,49.32 416.9,49.32 416.9,48.66 417.21,48.66 417.58,48.66 417.58,48.13 417.95,48.13 418.43,48.13 418.43,47.1 418.9,47.1 419.88,47.1 419.88,46.36 420.86,46.36 421.49,46.36 421.49,45.72 422.13,45.72 423.07,45.72 423.07,44.6 424,44.6 424.68,44.6 424.68,43.76 425.35,43.76 425.79,43.76 425.79,43.21 426.23,43.21 426.91,43.21 426.91,42.66 427.58,42.66 428.34,42.66 428.34,41.55 429.09,41.55 429.74,41.55 429.74,40.1 430.4,40.1 431.14,40.1 431.14,39.27 431.87,39.27 432.36,39.27 432.36,38.02 432.84,38.02 433.33,38.02 433.33,37.36 433.82,37.36 434.26,37.36 434.26,36.84 434.7,36.84 435.06,36.84 435.06,36.09 435.41,36.09 436.11,36.09 436.11,35 436.8,35 440.7,35 441.63,35 441.63,33.85 442.56,33.85 443.38,33.85 443.38,33.24 444.2,33.24 445,33.24 445,32.5 445.8,32.5 446.23,32.5 446.23,31.32 446.67,31.32 446.99,31.32 446.99,30.8 447.32,30.8 447.74,30.8 447.74,29.93 448.15,29.93 448.68,29.93 448.68,29.26 449.2,29.26 449.5,29.26 449.5,28.64 449.81,28.64 450.35,28.64 450.35,27.4 450.9,27.4 451.99,27.4 451.99,26.53 453.08,26.53 453.89,26.53 453.89,25.4 454.7,25.4 455.6,25.4 455.6,24.19 456.5,24.19 457,24.19 457,23.57 457.5,23.57 458.03,23.57 458.03,22.46 458.55,22.46 459.83,22.46 459.83,21.6 461.1,21.6 461.97,21.6 461.97,20.83 462.84,20.83 463.78,20.83 463.78,20.03 464.72,20.03 466.11,20.03 466.11,19 467.5,19 469.08,19 469.08,18.34 470.65,18.34 471.4,18.34 471.4,17.88 472.15,17.88 473.02,17.88 473.02,17.1 473.9,17.1 474.87,17.1 474.87,16.28 475.84,16.28 477.17,16.28 477.17,15.73 478.49,15.73 479.6,15.73 479.6,14.59 480.71,14.59 481.7,14.59 481.7,13.9 482.7,13.9 483.21,13.9 483.21,13.03 483.73,13.03 484.46,13.03 484.46,12 485.2,12 486.17,12 486.17,11.46 487.14,11.46 488.04,11.46 488.04,11.03 488.94,11.03 489.73,11.03 489.73,10.62 490.52,10.62 492.36,10.62 492.36,10.1 494.2,10.1 513.3,9.5 514.43,9.5 514.43,9.33 515.55,9.33 516.33,9.33 516.33,9.23 517.11,9.23 518.61,9.23 518.61,9.11 520.11,9.11 520.96,9.11 520.96,8.97 521.82,8.97 522.72,8.97 522.72,8.88 523.62,8.88 524.86,8.88 524.86,8.6 526.1,8.6 527.26,8.6 527.26,8.48 528.42,8.48 529.88,8.48 529.88,8.37 531.34,8.37 532.18,8.37 532.18,8.29 533.03,8.29 534.09,8.29 534.09,8.17 535.15,8.17 536.02,8.17 536.02,8.06 536.89,8.06 537.71,8.06 537.71,7.92 538.52,7.92 539.91,7.92 539.91,7.8 541.3,7.8" stroke="#25a325" stroke-width="1.0" stroke-dasharray="2.8 0.5 0.9 0.5"/>
<polyline class="cv" points="327.6,146.9 327.72,146.9 327.72,144.21 327.84,144.21 327.96,144.21 327.96,141.91 328.08,141.91 328.21,141.91 328.21,139.8 328.33,139.8 328.45,139.8 328.45,137.24 328.56,137.24 328.68,137.24 328.68,135 328.8,135 329.11,135 329.11,132.92 329.41,132.92 329.64,132.92 329.64,129.27 329.87,129.27 330.08,129.27 330.08,127.51 330.3,127.51 330.74,127.51 330.74,125.68 331.19,125.68 331.6,125.68 331.6,123.5 332,123.5 332.5,123.5 332.5,121.52 333,121.52 333.42,121.52 333.42,119.44 333.84,119.44 334.17,119.44 334.17,118.19 334.5,118.19 334.85,118.19 334.85,115.9 335.2,115.9 335.82,115.9 335.82,112.96 336.44,112.96 336.74,112.96 336.74,111.18 337.03,111.18 337.6,111.18 337.6,109.81 338.17,109.81 338.59,109.81 338.59,107.7 339,107.7 339.43,107.7 339.43,105.27 339.87,105.27 340.15,105.27 340.15,103.76 340.44,103.76 340.69,103.76 340.69,102.59 340.95,102.59 341.62,102.59 341.62,101.1 342.3,101.1 342.97,101.1 342.97,100.05 343.65,100.05 344.05,100.05 344.05,99.4 344.46,99.4 345.03,99.4 345.03,98.7 345.6,98.7 346.16,98.7 346.16,97.65 346.71,97.65 346.97,97.65 346.97,96.43 347.22,96.43 347.53,96.43 347.53,94.96 347.84,94.96 348.12,94.96 348.12,94.09 348.41,94.09 349.05,94.09 349.05,92.9 349.7,92.9 350.48,92.9 350.48,91.58 351.26,91.58 351.59,91.58 351.59,90.69 351.92,90.69 352.3,90.69 352.3,89.69 352.68,89.69 352.99,89.69 352.99,87.91 353.31,87.91 353.59,87.91 353.59,86.73 353.88,86.73 354.64,86.73 354.64,84.7 355.4,84.7 355.87,84.7 355.87,83.06 356.33,83.06 356.71,83.06 356.71,81.89 357.08,81.89 357.48,81.89 357.48,80.93 357.88,80.93 358.33,80.93 358.33,79.09 358.79,79.09 359.22,79.09 359.22,78.01 359.65,78.01 360.42,78.01 360.42,76.4 361.2,76.4 361.85,76.4 361.85,74.26 362.51,74.26 363.01,74.26 363.01,73.18 363.52,73.18 363.82,73.18 363.82,71.46 364.13,71.46 364.44,71.46 364.44,69.68 364.76,69.68 365.43,69.68 365.43,68.2 366.1,68.2 366.57,68.2 366.57,66.8 367.05,66.8 367.56,66.8 367.56,66.15 368.08,66.15 368.38,66.15 368.38,65.42 368.68,65.42 369.04,65.42 369.04,64.2 369.4,64.2 370.22,64.2 370.22,62.49 371.04,62.49 371.4,62.49 371.4,60.69 371.76,60.69 372.1,60.69 372.1,58.3 372.43,58.3 372.77,58.3 372.77,57.21 373.1,57.21 373.7,57.21 373.7,55.2 374.3,55.2 374.89,55.2 374.89,54.3 375.47,54.3 375.74,54.3 375.74,53.52 376.01,53.52 376.34,53.52 376.34,52.96 376.68,52.96 376.94,52.96 376.94,52.26 377.2,52.26 377.67,52.26 377.67,51.01 378.14,51.01 378.72,51.01 378.72,50.2 379.3,50.2 380.32,50.2 380.32,49.52 381.34,49.52 382.12,49.52 382.12,48.55 382.91,48.55 384.4,48.55 384.4,47.8 385.9,47.8 386.47,47.8 386.47,46.88 387.04,46.88 387.96,46.88 387.96,45.88 388.88,45.88 389.29,45.88 389.29,45.24 389.69,45.24 390.25,45.24 390.25,44.5 390.8,44.5 391.43,44.5 391.43,43.61 392.07,43.61 392.52,43.61 392.52,42.79 392.96,42.79 393.4,42.79 393.4,41.54 393.83,41.54 394.26,41.54 394.26,40.92 394.7,40.92 395.39,40.92 395.39,40.32 396.09,40.32 396.74,40.32 396.74,39.5 397.4,39.5 398.83,39.5 398.83,38.75 400.25,38.75 401.35,38.75 401.35,38.25 402.45,38.25 403.54,38.25 403.54,37.83 404.63,37.83 405.92,37.83 405.92,37.1 407.2,37.1 407.8,37.1 407.8,36.31 408.39,36.31 409.2,36.31 409.2,35.7 410,35.7 411.23,35.7 411.23,35.09 412.46,35.09 413.59,35.09 413.59,34.49 414.72,34.49 415.56,34.49 415.56,33.7 416.4,33.7 417.22,33.7 417.22,32.77 418.03,32.77 418.93,32.77 418.93,32.17 419.83,32.17 420.53,32.17 420.53,31.51 421.22,31.51 422.01,31.51 422.01,30.5 422.8,30.5 423.95,30.5 423.95,29.84 425.11,29.84 426.22,29.84 426.22,29.16 427.33,29.16 428.26,29.16 428.26,28 429.2,28 430.04,28 430.04,27.19 430.88,27.19 432.17,27.19 432.17,26.42 433.45,26.42 434.48,26.42 434.48,25.4 435.5,25.4 436.81,25.4 436.81,24.9 438.13,24.9 438.94,24.9 438.94,24.62 439.75,24.62 440.82,24.62 440.82,24.2 441.9,24.2 443.48,24.2 443.48,23.79 445.05,23.79 445.78,23.79 445.78,23.28 446.5,23.28 447.4,23.28 447.4,22.9 448.3,22.9 449.21,22.9 449.21,22.39 450.12,22.39 451.16,22.39 451.16,21.76 452.2,21.76 453.45,21.76 453.45,21 454.7,21 456.07,21 456.07,20.18 457.44,20.18 458.27,20.18 458.27,19.35 459.09,19.35 460.1,19.35 460.1,18.4 461.1,18.4 467.5,17.8 468.47,17.8 468.47,17.27 469.43,17.27 470.22,17.27 470.22,16.99 471.01,16.99 472.45,16.99 472.45,16.7 473.9,16.7 474.9,16.7 474.9,16.01 475.9,16.01 477.4,16.01 477.4,15.45 478.9,15.45 479.74,15.45 479.74,15.05 480.59,15.05 481.64,15.05 481.64,14.6 482.7,14.6 484.14,14.6 484.14,13.79 485.58,13.79 486.69,13.79 486.69,12.7 487.8,12.7 488.87,12.7 488.87,12.17 489.94,12.17 490.69,12.17 490.69,11.31 491.44,11.31 492.82,11.31 492.82,10.7 494.2,10.7 500.5,10.4 513.3,9.9 514.66,9.9 514.66,9.69 516.03,9.69 517.23,9.69 517.23,9.49 518.44,9.49 519.15,9.49 519.15,9.33 519.85,9.33 520.72,9.33 520.72,9.19 521.58,9.19 522.26,9.19 522.26,9 522.94,9 524.52,9 524.52,8.8 526.1,8.8 527.32,8.8 527.32,8.58 528.53,8.58 529.78,8.58 529.78,8.49 531.03,8.49 531.8,8.49 531.8,8.4 532.57,8.4 533.36,8.4 533.36,8.21 534.15,8.21 535.01,8.21 535.01,8.1 535.87,8.1 536.76,8.1 536.76,7.99 537.65,7.99 539.47,7.99 539.47,7.8 541.3,7.8" stroke="#ff7f0e" stroke-width="1.05" stroke-dasharray="2.9 0.6 0.95 0.6 0.95 0.6"/>
<polyline class="cv" points="327.6,146.9 328.2,141.4 328.38,141.4 328.38,139.25 328.55,139.25 328.7,139.25 328.7,136.58 328.85,136.58 329.11,136.58 329.11,134.25 329.37,134.25 329.49,134.25 329.49,132.04 329.6,132.04 329.85,132.04 329.85,129.9 330.1,129.9 330.34,129.9 330.34,126.9 330.58,126.9 330.76,126.9 330.76,125.17 330.94,125.17 331.11,125.17 331.11,122.05 331.28,122.05 331.46,122.05 331.46,120.63 331.64,120.63 331.84,120.63 331.84,119.34 332.05,119.34 332.37,119.34 332.37,117.2 332.7,117.2 333.1,117.2 333.1,114.09 333.5,114.09 333.86,114.09 333.86,112.75 334.23,112.75 334.56,112.75 334.56,111 334.9,111 335.21,111 335.21,108.23 335.52,108.23 335.81,108.23 335.81,106.01 336.1,106.01 336.34,106.01 336.34,104.46 336.57,104.46 336.94,104.46 336.94,101.1 337.3,101.1 337.84,101.1 337.84,98.29 338.37,98.29 338.64,98.29 338.64,95.8 338.92,95.8 339.36,95.8 339.36,93.7 339.8,93.7 340.33,93.7 340.33,92.63 340.87,92.63 341.24,92.63 341.24,91.5 341.62,91.5 342.02,91.5 342.02,89.82 342.42,89.82 342.74,89.82 342.74,89.08 343.06,89.08 343.48,89.08 343.48,88 343.9,88 344.42,88 344.42,86.15 344.94,86.15 345.48,86.15 345.48,85.15 346.01,85.15 346.51,85.15 346.51,84.32 347.01,84.32 347.32,84.32 347.32,83.62 347.64,83.62 347.94,83.62 347.94,82.89 348.24,82.89 348.97,82.89 348.97,81.4 349.7,81.4 350.17,81.4 350.17,79.22 350.64,79.22 351.17,79.22 351.17,78.33 351.7,78.33 351.99,78.33 351.99,76.83 352.28,76.83 352.57,76.83 352.57,75.34 352.86,75.34 353.33,75.34 353.33,74 353.8,74 354.51,74 354.51,72.94 355.22,72.94 355.5,72.94 355.5,72.17 355.79,72.17 356.18,72.17 356.18,71.55 356.57,71.55 357.05,71.55 357.05,70.52 357.53,70.52 358,70.52 358,69.37 358.46,69.37 358.88,69.37 358.88,68.47 359.29,68.47 359.57,68.47 359.57,67.91 359.85,67.91 360.53,67.91 360.53,66.6 361.2,66.6 361.69,66.6 361.69,65.27 362.18,65.27 362.9,65.27 362.9,64.42 363.62,64.42 363.97,64.42 363.97,63.55 364.32,63.55 364.62,63.55 364.62,62.44 364.91,62.44 365.3,62.44 365.3,61.72 365.69,61.72 366.29,61.72 366.29,60 366.9,60 367.25,60 367.25,59.01 367.6,59.01 367.93,59.01 367.93,58.08 368.26,58.08 368.83,58.08 368.83,56.8 369.4,56.8 369.99,56.8 369.99,55.54 370.58,55.54 371.16,55.54 371.16,53.35 371.74,53.35 372.06,53.35 372.06,52.47 372.37,52.47 372.76,52.47 372.76,51.62 373.15,51.62 373.72,51.62 373.72,50.2 374.3,50.2 375.18,50.2 375.18,49.07 376.06,49.07 376.51,49.07 376.51,48.17 376.95,48.17 377.42,48.17 377.42,47.17 377.88,47.17 378.95,47.17 378.95,46.17 380.01,46.17 380.54,46.17 380.54,45.51 381.07,45.51 381.84,45.51 381.84,44.5 382.6,44.5 383.23,44.5 383.23,43.41 383.86,43.41 385.04,43.41 385.04,42.8 386.21,42.8 386.58,42.8 386.58,41.41 386.95,41.41 387.3,41.41 387.3,40.83 387.66,40.83 388.02,40.83 388.02,40.23 388.39,40.23 388.85,40.23 388.85,38.92 389.3,38.92 390.05,38.92 390.05,37.9 390.8,37.9 391.33,37.9 391.33,35.9 391.86,35.9 392.22,35.9 392.22,34.95 392.59,34.95 392.98,34.95 392.98,34.02 393.37,34.02 393.9,34.02 393.9,33.19 394.43,33.19 394.86,33.19 394.86,32.44 395.28,32.44 395.83,32.44 395.83,31.69 396.37,31.69 396.89,31.69 396.89,30.5 397.4,30.5 397.98,30.5 397.98,29.35 398.57,29.35 398.87,29.35 398.87,28.56 399.18,28.56 399.55,28.56 399.55,27.84 399.93,27.84 400.66,27.84 400.66,27.24 401.38,27.24 401.84,27.24 401.84,25.6 402.3,25.6 403.64,25.6 403.64,24.67 404.99,24.67 405.65,24.67 405.65,23.73 406.32,23.73 407.61,23.73 407.61,22.8 408.9,22.8 409.58,22.8 409.58,21.29 410.25,21.29 411.18,21.29 411.18,20.69 412.1,20.69 412.8,20.69 412.8,20.13 413.49,20.13 414.25,20.13 414.25,19.59 415.01,19.59 415.71,19.59 415.71,18.4 416.4,18.4 417.37,18.4 417.37,17.87 418.34,17.87 419.43,17.87 419.43,17.51 420.52,17.51 421.66,17.51 421.66,17.1 422.8,17.1 424.38,17.1 424.38,16.39 425.97,16.39 426.73,16.39 426.73,15.71 427.5,15.71 428.35,15.71 428.35,14.6 429.2,14.6 430.08,14.6 430.08,14.2 430.95,14.2 432.18,14.2 432.18,13.88 433.4,13.88 434.45,13.88 434.45,13.3 435.5,13.3 436.74,13.3 436.74,12.7 437.98,12.7 439.05,12.7 439.05,12.09 440.13,12.09 441.01,12.09 441.01,11.6 441.9,11.6 448.3,11.1 454.7,10.4 461.1,10.1 467.5,9.5 473.9,9.1 480,8.6 500,8.2 541.3,7.8" stroke="#2277ba" stroke-width="1.15"/>
</g>
<rect x="327.6" y="7.8" width="214.2" height="139.6" fill="none" stroke="#444" stroke-width="1.05"/>
<path d="M327.6 147.4v2.6M327.6 147.4h-2.6M370.44 147.4v2.6M327.6 119.48h-2.6M413.28 147.4v2.6M327.6 91.56h-2.6M456.12 147.4v2.6M327.6 63.64h-2.6M498.96 147.4v2.6M327.6 35.72h-2.6M541.8 147.4v2.6M327.6 7.8h-2.6" stroke="#333" stroke-width="0.8" fill="none"/>
<text class="t tk" x="327.6" y="156.65" text-anchor="middle">0.0</text>
<text class="t tk" x="323" y="150.1" text-anchor="end">0.0</text>
<text class="t tk" x="370.44" y="156.65" text-anchor="middle">0.2</text>
<text class="t tk" x="323" y="122.18" text-anchor="end">0.2</text>
<text class="t tk" x="413.28" y="156.65" text-anchor="middle">0.4</text>
<text class="t tk" x="323" y="94.26" text-anchor="end">0.4</text>
<text class="t tk" x="456.12" y="156.65" text-anchor="middle">0.6</text>
<text class="t tk" x="323" y="66.34" text-anchor="end">0.6</text>
<text class="t tk" x="498.96" y="156.65" text-anchor="middle">0.8</text>
<text class="t tk" x="323" y="38.42" text-anchor="end">0.8</text>
<text class="t tk" x="541.8" y="156.65" text-anchor="middle">1.0</text>
<text class="t tk" x="323" y="10.5" text-anchor="end">1.0</text>
<text class="t lb" x="435.6" y="166.8" text-anchor="middle">False Postive Rate</text>
<text class="t lb" transform="translate(308.8 76.8) rotate(-90)" text-anchor="middle">True Positive Rate</text>
<rect x="473.9" y="58.7" width="64.4" height="85.35" rx="0.9" fill="#fff" fill-opacity="0.8" stroke="#d0d0d0" stroke-width="0.9"/>
<path d="M476.3 64.8h14.8" stroke="#666" stroke-width="0.9" stroke-dasharray="3.6 1.3" fill="none"/>
<text class="t lg" x="496.4" y="67.1">AE</text>
<path d="M476.3 75.13h14.8" stroke="#ff55b0" stroke-width="1.05" stroke-dasharray="6 1.5 1.2 1.5" fill="none"/>
<text class="t lg" x="496.4" y="77.43">GANomaly</text>
<path d="M476.3 85.46h14.8" stroke="#8c4a3e" stroke-width="0.9" stroke-dasharray="3 0.8 0.9 0.8" fill="none"/>
<text class="t lg" x="496.4" y="87.76">AIRD</text>
<path d="M476.3 95.79h14.8" stroke="#9810e6" stroke-width="1.15" stroke-dasharray="4.7 0.9" fill="none"/>
<text class="t lg" x="496.4" y="98.09">FSTAD</text>
<path d="M476.3 106.12h14.8" stroke="#f24a4e" stroke-width="1.0" stroke-dasharray="1.15 1.2" fill="none"/>
<text class="t lg" x="496.4" y="108.42">VGAE</text>
<path d="M476.3 116.45h14.8" stroke="#25a325" stroke-width="1.0" stroke-dasharray="2.8 0.9 0.9 0.9" fill="none"/>
<text class="t lg" x="496.4" y="118.75">DOMINANT</text>
<path d="M476.3 126.78h14.8" stroke="#ff7f0e" stroke-width="1.05" stroke-dasharray="2.9 1 0.95 1 0.95 1" fill="none"/>
<text class="t lg" x="496.4" y="129.08">GATE</text>
<path d="M476.3 137.11h14.8" stroke="#2277ba" stroke-width="1.15" fill="none"/>
<text class="t lg" x="496.4" y="139.41">SSGAE</text>
<text class="cap" x="423.3" y="193.35" text-anchor="middle"><tspan font-size="13.2">(</tspan><tspan font-weight="bold" stroke="#111" stroke-width="0.3" dy="0.85">b</tspan><tspan font-size="13.2" dy="-0.85">)</tspan></text>
</g>
<g id="plot-c">
<clipPath id="clip2"><rect x="30.1" y="214.85" width="214.4" height="139.5"/></clipPath>
<path d="M72.98 214.85V354.35M30.1 326.45H244.5M115.86 214.85V354.35M30.1 298.55H244.5M158.74 214.85V354.35M30.1 270.65H244.5M201.62 214.85V354.35M30.1 242.75H244.5" stroke="#b4b4b4" stroke-width="0.7" fill="none"/>
<g clip-path="url(#clip2)">
<path d="M30.1 354.35L244.5 214.85" stroke="#0a0a0a" stroke-width="1.05" stroke-dasharray="2.8 1.2" fill="none"/>
<polyline class="cv" points="30.3,354.2 31.2,347.1 31.65,347.1 31.65,343.01 32.1,343.01 32.6,343.01 32.6,339.5 33.1,339.5 33.92,339.5 33.92,336.9 34.74,336.9 35.22,336.9 35.22,332.5 35.7,332.5 36.9,329.9 38.85,329.9 38.85,328 40.8,328 41.49,328 41.49,325.59 42.18,325.59 42.74,325.59 42.74,324.2 43.3,324.2 44,317.8 45.6,317.8 45.6,316.5 47.2,316.5 47.96,316.5 47.96,314.72 48.71,314.72 49.34,314.72 49.34,313.18 49.97,313.18 50.63,313.18 50.63,310.8 51.29,310.8 52.4,310.8 52.4,308.8 53.5,308.8 54.37,308.8 54.37,306.13 55.24,306.13 55.97,306.13 55.97,304 56.7,304 57.46,304 57.46,301.58 58.22,301.58 59.06,301.58 59.06,298.9 59.9,298.9 60.74,298.9 60.74,297.53 61.59,297.53 62.52,297.53 62.52,295.57 63.45,295.57 64.87,295.57 64.87,293.8 66.3,293.8 67.86,293.8 67.86,291.67 69.43,291.67 70.19,291.67 70.19,290.61 70.95,290.61 71.82,290.61 71.82,288.7 72.7,288.7 73.73,288.7 73.73,286.98 74.75,286.98 75.61,286.98 75.61,285.39 76.46,285.39 77.13,285.39 77.13,284.2 77.8,284.2 79.02,284.2 79.02,282.59 80.25,282.59 81.57,282.59 81.57,281.6 82.9,281.6 83.83,281.6 83.83,280.61 84.76,280.61 85.73,280.61 85.73,279.1 86.7,279.1 87.76,279.1 87.76,277.52 88.81,277.52 89.59,277.52 89.59,276.35 90.37,276.35 91.14,276.35 91.14,274.6 91.9,274.6 92.88,274.6 92.88,272.99 93.86,272.99 94.42,272.99 94.42,271.45 94.98,271.45 95.79,271.45 95.79,269.7 96.6,269.7 98.57,269.7 98.57,268.06 100.54,268.06 101.36,268.06 101.36,266.91 102.19,266.91 103.14,266.91 103.14,265.3 104.1,265.3 105.25,265.3 105.25,264 106.4,264 107.51,264 107.51,262.42 108.63,262.42 109.42,262.42 109.42,261.36 110.21,261.36 111.34,261.36 111.34,259.33 112.47,259.33 113.33,259.33 113.33,258 114.2,258 115.84,258 115.84,257.53 117.49,257.53 119.64,257.53 119.64,256.7 121.8,256.7 122.8,256.7 122.8,255.13 123.81,255.13 124.63,255.13 124.63,253.97 125.45,253.97 126.18,253.97 126.18,252.9 126.9,252.9 128.42,252.9 128.42,251.47 129.93,251.47 130.57,251.47 130.57,250.67 131.21,250.67 132.26,250.67 132.26,249 133.3,249 134.03,249 134.03,247.37 134.76,247.37 135.33,247.37 135.33,245.96 135.9,245.96 136.5,245.96 136.5,243.9 137.1,243.9 138.42,243.9 138.42,240.85 139.75,240.85 140.29,240.85 140.29,239.56 140.83,239.56 141.57,239.56 141.57,237.5 142.3,237.5 144.2,237.5 144.2,235.6 146.1,235.6 151.2,235.6 153.75,235.6 153.75,234.3 156.3,234.3 158.85,234.3 158.85,232.4 161.4,232.4 168.2,232.6 170.22,232.6 170.22,230.64 172.25,230.64 174.32,230.64 174.32,229.3 176.4,229.3 184.7,228.4 196.2,227.6 196.81,227.6 196.81,225.64 197.42,225.64 198.06,225.64 198.06,224.3 198.7,224.3 199.33,224.3 199.33,222.8 199.97,222.8 200.53,222.8 200.53,221.9 201.1,221.9 202.93,221.9 202.93,221.11 204.75,221.11 207.03,221.11 207.03,220.2 209.3,220.2 210.58,220.2 210.58,219.14 211.86,219.14 213.88,219.14 213.88,217.8 215.9,217.8 218.25,217.8 218.25,217.27 220.6,217.27 222.45,217.27 222.45,216.87 224.3,216.87 225.54,216.87 225.54,216.56 226.77,216.56 228.38,216.56 228.38,216 230,216 244.5,214.9" stroke="#666" stroke-width="0.9" stroke-dasharray="3.6 1.1"/>
<polyline class="cv" points="30.3,354.2 31.2,352.3 31.91,352.3 31.91,349.78 32.62,349.78 33.51,349.78 33.51,345.9 34.4,345.9 35.23,345.9 35.23,341.88 36.06,341.88 36.83,341.88 36.83,339.5 37.6,339.5 38.5,339.5 38.5,337.96 39.39,337.96 40.1,337.96 40.1,335.7 40.8,335.7 41.64,335.7 41.64,333.97 42.47,333.97 42.91,333.97 42.91,332.98 43.34,332.98 43.97,332.98 43.97,331.8 44.6,331.8 45.18,331.8 45.18,329.88 45.76,329.88 46.39,329.88 46.39,328.73 47.03,328.73 47.71,328.73 47.71,327.3 48.4,327.3 50.95,327.3 50.95,325.4 53.5,325.4 54.65,325.4 54.65,323.54 55.81,323.54 56.33,323.54 56.33,322.74 56.86,322.74 57.78,322.74 57.78,321.6 58.7,321.6 59.59,321.6 59.59,319.71 60.49,319.71 60.91,319.71 60.91,318.12 61.33,318.12 61.92,318.12 61.92,316.5 62.5,316.5 63.06,316.5 63.06,314.09 63.61,314.09 64.31,314.09 64.31,311.4 65,311.4 65.9,311.4 65.9,308.49 66.79,308.49 67.72,308.49 67.72,307.22 68.65,307.22 69.38,307.22 69.38,305.3 70.1,305.3 70.9,305.3 70.9,303.35 71.71,303.35 72.14,303.35 72.14,301.58 72.58,301.58 73.29,301.58 73.29,300.1 74,300.1 74.91,300.1 74.91,298.74 75.81,298.74 76.65,298.74 76.65,296.99 77.49,296.99 78.29,296.99 78.29,295 79.1,295 79.95,295 79.95,293.32 80.79,293.32 81.28,293.32 81.28,291.23 81.78,291.23 82.34,291.23 82.34,289.9 82.9,289.9 83.83,289.9 83.83,287.69 84.76,287.69 85.64,287.69 85.64,285.35 86.52,285.35 87.26,285.35 87.26,282.3 88,282.3 88.76,282.3 88.76,280.93 89.52,280.93 90.37,280.93 90.37,278.63 91.22,278.63 92.16,278.63 92.16,277.2 93.1,277.2 93.87,277.2 93.87,275.2 94.64,275.2 95.62,275.2 95.62,272.2 96.6,272.2 97.52,272.2 97.52,271.06 98.43,271.06 99.83,271.06 99.83,269.52 101.22,269.52 102.21,269.52 102.21,268.1 103.2,268.1 104.38,268.1 104.38,265.98 105.56,265.98 106.12,265.98 106.12,263.67 106.69,263.67 107.4,263.67 107.4,261.5 108.1,261.5 109.19,261.5 109.19,260.13 110.29,260.13 111.38,260.13 111.38,258.77 112.47,258.77 113.94,258.77 113.94,256.7 115.4,256.7 117.95,256.7 117.95,254.8 120.5,254.8 121.45,254.8 121.45,253.36 122.39,253.36 123.81,253.36 123.81,251.95 125.23,251.95 126.07,251.95 126.07,250.3 126.9,250.3 128.8,250.3 128.8,248.99 130.7,248.99 132,248.99 132,247.1 133.3,247.1 137.1,246.5 138.14,246.5 138.14,245.47 139.17,245.47 139.85,245.47 139.85,244.58 140.52,244.58 141.41,244.58 141.41,242.7 142.3,242.7 143.33,242.7 143.33,241.16 144.37,241.16 145.23,241.16 145.23,239.5 146.1,239.5 147.78,239.5 147.78,238.14 149.45,238.14 150.98,238.14 150.98,236.3 152.5,236.3 153.77,236.3 153.77,235.29 155.03,235.29 156.97,235.29 156.97,233.7 158.9,233.7 160.49,233.7 160.49,232.38 162.07,232.38 164.34,232.38 164.34,230.9 166.6,230.9 168.19,230.9 168.19,230.14 169.79,230.14 171.35,230.14 171.35,229.78 172.91,229.78 174.65,229.78 174.65,229.3 176.4,229.3 177.74,229.3 177.74,227.43 179.09,227.43 181.04,227.43 181.04,226 183,226 184.5,226 184.5,224.96 186.01,224.96 187.8,224.96 187.8,224.3 189.6,224.3 190.27,224.3 190.27,223.31 190.93,223.31 191.92,223.31 191.92,221.9 192.9,221.9 201.1,221 203.36,221 203.36,219.83 205.63,219.83 207.46,219.83 207.46,218.6 209.3,218.6 210.92,218.6 210.92,218 212.53,218 214.22,218 214.22,217.3 215.9,217.3 222.5,216.9 230.7,216.6 232.28,216.6 232.28,216.18 233.86,216.18 235.25,216.18 235.25,215.71 236.64,215.71 238.04,215.71 238.04,215.31 239.45,215.31 241.97,215.31 241.97,214.9 244.5,214.9" stroke="#ff55b0" stroke-width="1.05" stroke-dasharray="6 1.1 1.2 1.1"/>
<polyline class="cv" points="30.3,354.2 31.2,347.1 31.8,347.1 31.8,343.22 32.4,343.22 32.75,343.22 32.75,339.5 33.1,339.5 33.77,339.5 33.77,335.06 34.44,335.06 35.07,335.06 35.07,330.5 35.7,330.5 35.96,330.5 35.96,326.23 36.21,326.23 36.44,326.23 36.44,323.59 36.67,323.59 37.14,323.59 37.14,319 37.6,319 38.15,319 38.15,315.54 38.7,315.54 39.1,315.54 39.1,311.4 39.5,311.4 40.15,311.4 40.15,306.5 40.8,306.5 41.4,306.5 41.4,303.99 42,303.99 42.35,303.99 42.35,300.1 42.7,300.1 43.57,300.1 43.57,298.22 44.44,298.22 45.17,298.22 45.17,295 45.9,295 46.43,295 46.43,292.51 46.95,292.51 47.68,292.51 47.68,288.7 48.4,288.7 49.55,288.7 49.55,286.83 50.7,286.83 51.42,286.83 51.42,285.54 52.14,285.54 52.82,285.54 52.82,284.2 53.5,284.2 54.51,284.2 54.51,282.51 55.52,282.51 56.43,282.51 56.43,280.97 57.35,280.97 57.91,280.97 57.91,279.9 58.47,279.9 59.19,279.9 59.19,278.4 59.9,278.4 60.83,278.4 60.83,277.15 61.77,277.15 62.47,277.15 62.47,275.48 63.18,275.48 64.09,275.48 64.09,274 65,274 66.01,274 66.01,272.53 67.02,272.53 68.16,272.53 68.16,271.56 69.31,271.56 70.35,271.56 70.35,269.5 71.4,269.5 72.06,269.5 72.06,267.06 72.72,267.06 73.47,267.06 73.47,265.02 74.22,265.02 74.76,265.02 74.76,263.1 75.3,263.1 75.97,263.1 75.97,261.11 76.64,261.11 77.23,261.11 77.23,260.17 77.81,260.17 78.38,260.17 78.38,258.6 78.95,258.6 80.28,258.6 80.28,257.3 81.6,257.3 89.3,256.1 90.73,256.1 90.73,255.04 92.16,255.04 93.28,255.04 93.28,253.5 94.4,253.5 95.47,253.5 95.47,252.44 96.55,252.44 98.32,252.44 98.32,251 100.1,251 101.26,251 101.26,248.85 102.42,248.85 103.11,248.85 103.11,247.76 103.81,247.76 104.5,247.76 104.5,246.5 105.2,246.5 106,246.5 106,245.15 106.8,245.15 107.36,245.15 107.36,243.66 107.92,243.66 109.11,243.66 109.11,242 110.3,242 111.56,242 111.56,240.72 112.83,240.72 114.11,240.72 114.11,239.5 115.4,239.5 116.1,236.9 120.5,236.3 122.16,236.3 122.16,234.66 123.82,234.66 126.01,234.66 126.01,233.7 128.2,233.7 129.16,233.7 129.16,232.15 130.12,232.15 131.71,232.15 131.71,231.2 133.3,231.2 139.7,230.5 140.89,230.5 140.89,228.92 142.08,228.92 144.09,228.92 144.09,228 146.1,228 147.62,228 147.62,227.48 149.14,227.48 150.82,227.48 150.82,226.7 152.5,226.7 158.9,226.3 169.9,226.5 172.03,226.5 172.03,226.02 174.16,226.02 175.26,226.02 175.26,225.73 176.35,225.73 178.03,225.73 178.03,225.2 179.7,225.2 180.38,225.2 180.38,224.11 181.07,224.11 181.63,224.11 181.63,222.7 182.2,222.7 184.06,222.7 184.06,221.73 185.92,221.73 187.57,221.73 187.57,220.97 189.22,220.97 191.06,220.97 191.06,220.2 192.9,220.2 194.5,220.2 194.5,218.85 196.1,218.85 197.8,218.85 197.8,217.8 199.5,217.8 209.3,216.9 225.8,216.1 244.5,214.9" stroke="#8c4a3e" stroke-width="0.9" stroke-dasharray="3 0.5 0.9 0.5"/>
<polyline class="cv" points="30.3,354.2 31.05,354.2 31.05,352.3 31.8,352.3 32.66,352.3 32.66,349.87 33.53,349.87 34.26,349.87 34.26,347.1 35,347.1 35.55,347.1 35.55,343.52 36.1,343.52 36.5,343.52 36.5,340.8 36.9,340.8 37.9,340.8 37.9,337.6 38.89,337.6 39.5,337.6 39.5,335.7 40.1,335.7 40.84,335.7 40.84,332.61 41.59,332.61 42.44,332.61 42.44,329.3 43.3,329.3 43.87,329.3 43.87,327.13 44.45,327.13 45.08,327.13 45.08,325.68 45.7,325.68 46.45,325.68 46.45,322.9 47.2,322.9 47.58,322.9 47.58,319.8 47.96,319.8 48.53,319.8 48.53,316.5 49.1,316.5 49.84,316.5 49.84,312.99 50.58,312.99 51.09,312.99 51.09,310.1 51.6,310.1 52.44,310.1 52.44,307.42 53.27,307.42 54.04,307.42 54.04,305.3 54.8,305.3 55.15,305.3 55.15,301.72 55.5,301.72 55.8,301.72 55.8,299.5 56.1,299.5 58.65,299.5 58.65,297.6 61.2,297.6 62.21,297.6 62.21,295.7 63.22,295.7 64,295.7 64,294.63 64.79,294.63 65.54,294.63 65.54,292.5 66.3,292.5 67.16,292.5 67.16,291.3 68.02,291.3 68.77,291.3 68.77,289.97 69.51,289.97 70.46,289.97 70.46,288.7 71.4,288.7 72.01,288.7 72.01,287.2 72.62,287.2 73.44,287.2 73.44,285.95 74.27,285.95 74.78,285.95 74.78,284.8 75.3,284.8 76.16,284.8 76.16,283.34 77.02,283.34 77.51,283.34 77.51,281.96 77.99,281.96 78.55,281.96 78.55,280.3 79.1,280.3 80.89,280.3 80.89,279.47 82.68,279.47 84.69,279.47 84.69,278.4 86.7,278.4 87.44,278.4 87.44,276.14 88.17,276.14 88.74,276.14 88.74,273.3 89.3,273.3 90.84,273.3 90.84,271.91 92.38,271.91 93.39,271.91 93.39,270.8 94.4,270.8 95.28,270.8 95.28,268.34 96.16,268.34 97.08,268.34 97.08,266.9 98,266.9 100.6,266.9 100.6,264.8 103.2,264.8 103.94,264.8 103.94,263.21 104.69,263.21 105.3,263.21 105.3,261.32 105.9,261.32 107,261.32 107,259.9 108.1,259.9 109.26,259.9 109.26,258.91 110.43,258.91 111.11,258.91 111.11,257.25 111.79,257.25 113,257.25 113,256.1 114.2,256.1 116.75,256.1 116.75,254.8 119.3,254.8 120.25,254.8 120.25,253.2 121.19,253.2 121.97,253.2 121.97,251.53 122.74,251.53 123.57,251.53 123.57,250.3 124.4,250.3 126.95,250.3 126.95,248.4 129.5,248.4 130.98,248.4 130.98,247.87 132.46,247.87 134.18,247.87 134.18,247.1 135.9,247.1 137.28,247.1 137.28,246.56 138.66,246.56 140.48,246.56 140.48,245.8 142.3,245.8 148.6,245.2 149.44,245.2 149.44,243.31 150.28,243.31 151.39,243.31 151.39,242 152.5,242 153.34,242 153.34,240.95 154.19,240.95 155.07,240.95 155.07,239.68 155.95,239.68 157.43,239.68 157.43,238.2 158.9,238.2 160.1,238.2 160.1,236.8 161.31,236.8 161.98,236.8 161.98,235.4 162.65,235.4 163.77,235.4 163.77,234.2 164.9,234.2 167.22,234.2 167.22,232.64 169.54,232.64 171.37,232.64 171.37,230.9 173.2,230.9 181.4,230.1 183.4,230.1 183.4,228.54 185.4,228.54 186.7,228.54 186.7,227.6 188,227.6 189.26,227.6 189.26,226.49 190.52,226.49 191.71,226.49 191.71,225.2 192.9,225.2 195.09,225.2 195.09,223.72 197.29,223.72 199.19,223.72 199.19,222.7 201.1,222.7 202.63,222.7 202.63,222.04 204.16,222.04 206.73,222.04 206.73,221 209.3,221 220.9,220.6 223.35,220.6 223.35,218.6 225.8,218.6 232.4,218.3 234.05,218.3 234.05,216.1 235.7,216.1 244.5,214.9" stroke="#9810e6" stroke-width="1.15" stroke-dasharray="4.7 0.7"/>
<polyline class="cv" points="30.3,354.2 31.41,354.2 31.41,352.85 32.52,352.85 34.11,352.85 34.11,351.6 35.7,351.6 37.07,351.6 37.07,350.19 38.44,350.19 39.62,350.19 39.62,348.4 40.8,348.4 41.59,348.4 41.59,347.22 42.37,347.22 43.31,347.22 43.31,346 44.25,346 45.08,346 45.08,344.6 45.9,344.6 47.22,344.6 47.22,343.16 48.55,343.16 49.77,343.16 49.77,342 51,342 52.42,342 52.42,340.52 53.84,340.52 54.97,340.52 54.97,339.5 56.1,339.5 58.11,339.5 58.11,337.74 60.11,337.74 61.31,337.74 61.31,336.3 62.5,336.3 69.5,335.7 70.45,335.7 70.45,331.8 71.4,331.8 73.84,331.8 73.84,330.21 76.27,330.21 77.69,330.21 77.69,328.6 79.1,328.6 79.64,328.6 79.64,325.07 80.18,325.07 80.89,325.07 80.89,322.9 81.6,322.9 82.37,322.9 82.37,321.39 83.14,321.39 83.73,321.39 83.73,319.78 84.33,319.78 85.51,319.78 85.51,317.8 86.7,317.8 87.63,317.8 87.63,314.55 88.57,314.55 89.49,314.55 89.49,313.15 90.42,313.15 91.16,313.15 91.16,311.4 91.9,311.4 92.68,311.4 92.68,309.4 93.45,309.4 94.08,309.4 94.08,308.38 94.72,308.38 95.66,308.38 95.66,306.7 96.6,306.7 97.28,306.7 97.28,304.96 97.96,304.96 98.88,304.96 98.88,302.97 99.79,302.97 100.65,302.97 100.65,301 101.5,301 102.48,301 102.48,299.58 103.45,299.58 103.97,299.58 103.97,297.87 104.48,297.87 105.44,297.87 105.44,296.1 106.4,296.1 108.11,296.1 108.11,294.69 109.83,294.69 111.41,294.69 111.41,292.8 113,292.8 113.94,292.8 113.94,291.16 114.89,291.16 115.59,291.16 115.59,288.7 116.3,288.7 118.34,288.7 118.34,288.05 120.38,288.05 121.64,288.05 121.64,287 122.9,287 124.83,287 124.83,286.18 126.77,286.18 128.13,286.18 128.13,285.4 129.5,285.4 130.82,285.4 130.82,284.31 132.14,284.31 134.12,284.31 134.12,282.9 136.1,282.9 137.11,282.9 137.11,279.72 138.12,279.72 138.71,279.72 138.71,277.1 139.3,277.1 140.17,277.1 140.17,274.36 141.04,274.36 141.82,274.36 141.82,272.2 142.6,272.2 143.94,272.2 143.94,270.93 145.27,270.93 147.24,270.93 147.24,269.7 149.2,269.7 151.2,269.7 151.2,268.24 153.21,268.24 154.5,268.24 154.5,266.4 155.8,266.4 157.07,266.4 157.07,264.98 158.33,264.98 159.51,264.98 159.51,263.47 160.68,263.47 161.54,263.47 161.54,262.3 162.4,262.3 163.18,262.3 163.18,261.07 163.95,261.07 164.43,261.07 164.43,258.9 164.9,258.9 165.93,258.9 165.93,256.75 166.97,256.75 167.68,256.75 167.68,255.59 168.38,255.59 169.14,255.59 169.14,253.9 169.9,253.9 170.97,253.9 170.97,251.88 172.05,251.88 173.42,251.88 173.42,250.7 174.8,250.7 181.4,250.7 182.42,250.7 182.42,248.79 183.45,248.79 184.17,248.79 184.17,247.68 184.9,247.68 185.6,247.68 185.6,246.5 186.3,246.5 187.93,246.5 187.93,245.19 189.57,245.19 191.23,245.19 191.23,244.1 192.9,244.1 194.57,244.1 194.57,242.95 196.24,242.95 198.67,242.95 198.67,241.6 201.1,241.6 202.14,241.6 202.14,239.61 203.19,239.61 203.79,239.61 203.79,236.7 204.4,236.7 205.01,236.7 205.01,233.64 205.62,233.64 206.66,233.64 206.66,231.7 207.7,231.7 208.93,231.7 208.93,230.25 210.15,230.25 211.38,230.25 211.38,228.4 212.6,228.4 214.15,228.4 214.15,227.02 215.7,227.02 216.65,227.02 216.65,226 217.6,226 218.79,226 218.79,224.36 219.98,224.36 221.24,224.36 221.24,222.7 222.5,222.7 223.6,222.7 223.6,221.46 224.7,221.46 226.05,221.46 226.05,220.2 227.4,220.2 229.9,220.2 229.9,218.9 232.4,218.9 234.85,218.9 234.85,216.9 237.3,216.9 239.27,216.9 239.27,215.8 241.24,215.8 242.87,215.8 242.87,214.9 244.5,214.9" stroke="#f24a4e" stroke-width="1.0" stroke-dasharray="1.15 1.0"/>
<polyline class="cv" points="30.3,354.2 33.1,354.2 34.4,354.2 34.4,352.9 35.7,352.9 36.64,352.9 36.64,351.35 37.57,351.35 39.19,351.35 39.19,349.7 40.8,349.7 41.54,349.7 41.54,347.08 42.27,347.08 42.79,347.08 42.79,343.3 43.3,343.3 43.88,343.3 43.88,342.09 44.46,342.09 45.06,342.09 45.06,341.25 45.66,341.25 46.43,341.25 46.43,339.5 47.2,339.5 48.26,339.5 48.26,337.77 49.32,337.77 50.81,337.77 50.81,336.3 52.3,336.3 53.08,336.3 53.08,334.35 53.86,334.35 54.48,334.35 54.48,333.4 55.11,333.4 55.9,333.4 55.9,331.8 56.7,331.8 57.7,331.8 57.7,326.7 58.7,326.7 59.46,326.7 59.46,323.61 60.21,323.61 60.71,323.61 60.71,321.6 61.2,321.6 61.8,321.6 61.8,319.83 62.39,319.83 63,319.83 63,318.78 63.61,318.78 64.3,318.78 64.3,316.5 65,316.5 66.17,316.5 66.17,315.07 67.34,315.07 67.88,315.07 67.88,313.31 68.43,313.31 69.26,313.31 69.26,311.4 70.1,311.4 70.64,311.4 70.64,307.48 71.18,307.48 71.94,307.48 71.94,305 72.7,305 73.35,305 73.35,302.7 74,302.7 74.72,302.7 74.72,301.2 75.45,301.2 76.26,301.2 76.26,299.05 77.06,299.05 78.08,299.05 78.08,297.6 79.1,297.6 79.97,297.6 79.97,296 80.84,296 81.76,296 81.76,293.98 82.68,293.98 83.44,293.98 83.44,292.5 84.2,292.5 84.77,292.5 84.77,289.96 85.33,289.96 85.79,289.96 85.79,287.37 86.24,287.37 87.12,287.37 87.12,284.8 88,284.8 88.8,284.8 88.8,281.51 89.6,281.51 90.05,281.51 90.05,279.84 90.49,279.84 91.19,279.84 91.19,277.2 91.9,277.2 92.85,277.2 92.85,275.87 93.81,275.87 94.35,275.87 94.35,274.7 94.9,274.7 95.66,274.7 95.66,272.23 96.42,272.23 97.07,272.23 97.07,270.49 97.71,270.49 98.8,270.49 98.8,268.9 99.9,268.9 100.89,268.9 100.89,266.93 101.88,266.93 102.59,266.93 102.59,265.04 103.3,265.04 104.05,265.04 104.05,261.5 104.8,261.5 105.65,261.5 105.65,258 106.5,258 107.12,258 107.12,255.63 107.74,255.63 108.29,255.63 108.29,254.39 108.85,254.39 109.58,254.39 109.58,252.9 110.3,252.9 111.18,252.9 111.18,251.36 112.06,251.36 113.13,251.36 113.13,249.7 114.2,249.7 114.95,249.7 114.95,247.45 115.69,247.45 116.2,247.45 116.2,245.2 116.7,245.2 117.18,245.2 117.18,243.78 117.67,243.78 118.48,243.78 118.48,242 119.3,242 120.84,242 120.84,240.84 122.39,240.84 124.04,240.84 124.04,238.8 125.7,238.8 126.42,238.8 126.42,237.31 127.14,237.31 127.98,237.31 127.98,236.01 128.83,236.01 129.81,236.01 129.81,235 130.8,235 131.29,235 131.29,233.31 131.77,233.31 132.54,233.31 132.54,231.8 133.3,231.8 135.16,231.8 135.16,230.78 137.03,230.78 138.36,230.78 138.36,229.9 139.7,229.9 141.33,229.9 141.33,228.87 142.96,228.87 144.53,228.87 144.53,227.3 146.1,227.3 147.49,227.3 147.49,226.71 148.88,226.71 150.69,226.71 150.69,226 152.5,226 158.9,224.8 160.74,224.8 160.74,223.17 162.59,223.17 163.79,223.17 163.79,222.2 165,222.2 168.2,222.7 179.7,222.2 180.55,222.2 180.55,218.9 181.4,218.9 192.9,218.3 194.15,218.3 194.15,216.6 195.4,216.6 209.3,216.1 244.5,214.9" stroke="#25a325" stroke-width="1.0" stroke-dasharray="2.8 0.5 0.9 0.5"/>
<polyline class="cv" points="30.3,354.2 30.3,343.3 31.2,338.2 31.41,338.2 31.41,334.25 31.62,334.25 31.8,334.25 31.8,329.45 31.99,329.45 32.34,329.45 32.34,327.16 32.68,327.16 32.89,327.16 32.89,324.2 33.1,324.2 33.34,324.2 33.34,320.34 33.58,320.34 33.73,320.34 33.73,317.18 33.89,317.18 34.14,317.18 34.14,313.9 34.4,313.9 34.72,313.9 34.72,309.82 35.03,309.82 35.37,309.82 35.37,307.44 35.71,307.44 36.01,307.44 36.01,304 36.3,304 37.14,304 37.14,301.99 37.98,301.99 38.74,301.99 38.74,298.9 39.5,298.9 40.2,298.9 40.2,296.06 40.9,296.06 41.34,296.06 41.34,294.73 41.77,294.73 42.54,294.73 42.54,293.1 43.3,293.1 43.96,293.1 43.96,291.25 44.62,291.25 45.23,291.25 45.23,288.98 45.83,288.98 46.52,288.98 46.52,287.4 47.2,287.4 47.78,287.4 47.78,284.68 48.36,284.68 48.83,284.68 48.83,283.03 49.31,283.03 50.15,283.03 50.15,281 51,281 52.03,281 52.03,278.17 53.05,278.17 53.58,278.17 53.58,276.8 54.11,276.8 54.81,276.8 54.81,274.6 55.5,274.6 56.54,274.6 56.54,272.23 57.58,272.23 58.84,272.23 58.84,270.84 60.09,270.84 60.94,270.84 60.94,269.5 61.8,269.5 62.79,269.5 62.79,266.2 63.78,266.2 64.23,266.2 64.23,264.56 64.68,264.56 65.19,264.56 65.19,262.5 65.7,262.5 66.64,262.5 66.64,261.06 67.58,261.06 68.24,261.06 68.24,259.9 68.9,259.9 69.46,259.9 69.46,258.29 70.02,258.29 70.78,258.29 70.78,257.02 71.54,257.02 72.12,257.02 72.12,255.4 72.7,255.4 74.66,255.4 74.66,254.75 76.62,254.75 77.86,254.75 77.86,254.1 79.1,254.1 79.93,254.1 79.93,252.5 80.76,252.5 81.83,252.5 81.83,251 82.9,251 84.84,251 84.84,249.81 86.77,249.81 88.04,249.81 88.04,249 89.3,249 90.61,249 90.61,246.98 91.92,246.98 92.49,246.98 92.49,245.5 93.07,245.5 93.73,245.5 93.73,243.9 94.4,243.9 95.84,243.9 95.84,242.72 97.28,242.72 99.34,242.72 99.34,242 101.4,242 103.05,242 103.05,240.44 104.7,240.44 107.5,240.44 107.5,239.5 110.3,239.5 111.67,239.5 111.67,238.14 113.05,238.14 114.22,238.14 114.22,236.3 115.4,236.3 117.95,236.3 117.95,235 120.5,235 122.06,235 122.06,233.93 123.63,233.93 125.91,233.93 125.91,233.1 128.2,233.1 129.17,233.1 129.17,231.85 130.14,231.85 131.72,231.85 131.72,230.5 133.3,230.5 134.55,230.5 134.55,229.51 135.8,229.51 137.75,229.51 137.75,228 139.7,228 141.08,228 141.08,226.91 142.45,226.91 144.28,226.91 144.28,226 146.1,226 147.28,226 147.28,224.5 148.45,224.5 150.48,224.5 150.48,223.5 152.5,223.5 154.22,223.5 154.22,222.68 155.93,222.68 157.42,222.68 157.42,221.6 158.9,221.6 165,220.9 167.45,220.9 167.45,219.4 169.9,219.4 171.5,219.4 171.5,218.87 173.09,218.87 175.29,218.87 175.29,218.44 177.49,218.44 179.45,218.44 179.45,217.8 181.4,217.8 192.9,216.9 209.3,216.1 244.5,214.9" stroke="#ff7f0e" stroke-width="1.05" stroke-dasharray="2.9 0.6 0.95 0.6 0.95 0.6"/>
<polyline class="cv" points="30.3,354.2 30.6,347.1 31.07,347.1 31.07,343.57 31.53,343.57 31.75,343.57 31.75,341.28 31.97,341.28 32.23,341.28 32.23,336.9 32.5,336.9 32.8,336.9 32.8,332.26 33.1,332.26 33.48,332.26 33.48,328.22 33.87,328.22 34.13,328.22 34.13,324.2 34.4,324.2 34.69,324.2 34.69,320.83 34.97,320.83 35.26,320.83 35.26,317.12 35.55,317.12 35.92,317.12 35.92,313.9 36.3,313.9 36.92,313.9 36.92,310.49 37.53,310.49 38.22,310.49 38.22,305 38.9,305 39.5,301.4 39.74,301.4 39.74,296.47 39.97,296.47 40.39,296.47 40.39,292.5 40.8,292.5 41.57,292.5 41.57,289.71 42.34,289.71 43.17,289.71 43.17,286.1 44,286.1 44.18,286.1 44.18,283.21 44.37,283.21 44.58,283.21 44.58,279.37 44.79,279.37 44.99,279.37 44.99,275.9 45.2,275.9 45.71,275.9 45.71,274.43 46.22,274.43 46.68,274.43 46.68,273.4 47.14,273.4 48.12,273.4 48.12,270.8 49.1,270.8 49.8,270.8 49.8,268.2 50.51,268.2 51.4,268.2 51.4,264.4 52.3,264.4 53.06,264.4 53.06,261.09 53.81,261.09 54.31,261.09 54.31,256.7 54.8,256.7 55.41,256.7 55.41,254.79 56.03,254.79 56.6,254.79 56.6,252.55 57.17,252.55 57.93,252.55 57.93,251 58.7,251 59.49,251 59.49,249.39 60.28,249.39 61.04,249.39 61.04,248.4 61.8,248.4 68.9,248.4 69.74,248.4 69.74,246.76 70.58,246.76 71.34,246.76 71.34,245.2 72.1,245.2 74.3,245.2 74.3,243.3 76.5,243.3 82.9,242.7 83.4,242.7 83.4,241.09 83.9,241.09 84.7,241.09 84.7,239.5 85.5,239.5 89.3,238.8 89.87,238.8 89.87,237.27 90.45,237.27 91.17,237.27 91.17,235.6 91.9,235.6 94.4,235 95.35,235 95.35,229.9 96.3,229.9 97.31,229.9 97.31,228.21 98.32,228.21 99.21,228.21 99.21,226.7 100.1,226.7 110.3,226.3 112.25,226.3 112.25,224.8 114.2,224.8 120.5,224.1 135.9,223.9 139.7,222.9 146.1,222.2 147.82,222.2 147.82,221.59 149.54,221.59 151.02,221.59 151.02,220.9 152.5,220.9 153.99,220.9 153.99,220.14 155.47,220.14 157.19,220.14 157.19,219.7 158.9,219.7 160.56,219.7 160.56,218.92 162.23,218.92 163.56,218.92 163.56,218.3 164.9,218.3 181.4,217.8 183.05,217.8 183.05,216.1 184.7,216.1 201.1,215.6 215,215.1 244.5,214.9" stroke="#2277ba" stroke-width="1.15"/>
</g>
<rect x="30.1" y="214.85" width="214.4" height="139.5" fill="none" stroke="#444" stroke-width="1.05"/>
<path d="M30.1 354.35v2.6M30.1 354.35h-2.6M72.98 354.35v2.6M30.1 326.45h-2.6M115.86 354.35v2.6M30.1 298.55h-2.6M158.74 354.35v2.6M30.1 270.65h-2.6M201.62 354.35v2.6M30.1 242.75h-2.6M244.5 354.35v2.6M30.1 214.85h-2.6" stroke="#333" stroke-width="0.8" fill="none"/>
<text class="t tk" x="30.1" y="363.6" text-anchor="middle">0.0</text>
<text class="t tk" x="25.5" y="357.05" text-anchor="end">0.0</text>
<text class="t tk" x="72.98" y="363.6" text-anchor="middle">0.2</text>
<text class="t tk" x="25.5" y="329.15" text-anchor="end">0.2</text>
<text class="t tk" x="115.86" y="363.6" text-anchor="middle">0.4</text>
<text class="t tk" x="25.5" y="301.25" text-anchor="end">0.4</text>
<text class="t tk" x="158.74" y="363.6" text-anchor="middle">0.6</text>
<text class="t tk" x="25.5" y="273.35" text-anchor="end">0.6</text>
<text class="t tk" x="201.62" y="363.6" text-anchor="middle">0.8</text>
<text class="t tk" x="25.5" y="245.45" text-anchor="end">0.8</text>
<text class="t tk" x="244.5" y="363.6" text-anchor="middle">1.0</text>
<text class="t tk" x="25.5" y="217.55" text-anchor="end">1.0</text>
<text class="t lb" x="138.2" y="373.75" text-anchor="middle">False Postive Rate</text>
<text class="t lb" transform="translate(10.5 284.6) rotate(-90)" text-anchor="middle">True Positive Rate</text>
<rect x="176.6" y="266.25" width="64.4" height="85.35" rx="0.9" fill="#fff" fill-opacity="0.8" stroke="#d0d0d0" stroke-width="0.9"/>
<path d="M179 272.35h14.8" stroke="#666" stroke-width="0.9" stroke-dasharray="3.6 1.3" fill="none"/>
<text class="t lg" x="199.1" y="274.65">AE</text>
<path d="M179 282.68h14.8" stroke="#ff55b0" stroke-width="1.05" stroke-dasharray="6 1.5 1.2 1.5" fill="none"/>
<text class="t lg" x="199.1" y="284.98">GANomaly</text>
<path d="M179 293.01h14.8" stroke="#8c4a3e" stroke-width="0.9" stroke-dasharray="3 0.8 0.9 0.8" fill="none"/>
<text class="t lg" x="199.1" y="295.31">AIRD</text>
<path d="M179 303.34h14.8" stroke="#9810e6" stroke-width="1.15" stroke-dasharray="4.7 0.9" fill="none"/>
<text class="t lg" x="199.1" y="305.64">FSTAD</text>
<path d="M179 313.67h14.8" stroke="#f24a4e" stroke-width="1.0" stroke-dasharray="1.15 1.2" fill="none"/>
<text class="t lg" x="199.1" y="315.97">VGAE</text>
<path d="M179 324h14.8" stroke="#25a325" stroke-width="1.0" stroke-dasharray="2.8 0.9 0.9 0.9" fill="none"/>
<text class="t lg" x="199.1" y="326.3">DOMINANT</text>
<path d="M179 334.33h14.8" stroke="#ff7f0e" stroke-width="1.05" stroke-dasharray="2.9 1 0.95 1 0.95 1" fill="none"/>
<text class="t lg" x="199.1" y="336.63">GATE</text>
<path d="M179 344.66h14.8" stroke="#2277ba" stroke-width="1.15" fill="none"/>
<text class="t lg" x="199.1" y="346.96">SSGAE</text>
<text class="cap" x="125.6" y="400.55" text-anchor="middle"><tspan font-size="13.2">(</tspan><tspan font-weight="bold" stroke="#111" stroke-width="0.3" dy="0.85">c</tspan><tspan font-size="13.2" dy="-0.85">)</tspan></text>
</g>
</g>
</svg>
</body></html>
